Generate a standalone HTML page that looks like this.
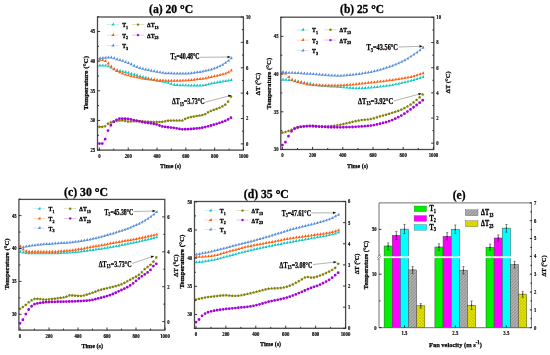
<!DOCTYPE html>
<html><head><meta charset="utf-8"><style>html,body{margin:0;padding:0;background:#fff;width:550px;height:355px;overflow:hidden;}svg{display:block;will-change:transform;filter:blur(0.25px);font-family:"Liberation Serif", serif;}</style></head><body>
<svg width="550" height="355" viewBox="0 0 550 355" font-family='"Liberation Serif", serif'>
<defs><pattern id="hg" width="2.2" height="2.2" patternUnits="userSpaceOnUse" patternTransform="rotate(45)"><rect width="2.2" height="2.2" fill="#b4b4b4"/><rect width="0.8" height="2.2" fill="#8e8e8e"/><rect width="2.2" height="0.4" fill="#a0a0a0"/></pattern><pattern id="hy" width="2.2" height="2.2" patternUnits="userSpaceOnUse" patternTransform="rotate(45)"><rect width="2.2" height="2.2" fill="#e6e600"/><rect width="0.6" height="2.2" fill="#c8c800"/><rect width="2.2" height="0.6" fill="#c8c800"/></pattern></defs>
<rect width="550" height="355" fill="#fff"/>
<polyline points="99.4,126.9 102.26,126.9 105.12,126.23 107.98,123.61 110.84,122.39 113.7,121.64 116.56,121.02 119.42,120.56 122.28,120.41 125.14,120.99 128,121.5 130.86,121.42 133.72,121.26 136.58,121.12 139.44,121.12 142.3,121.27 145.16,121.48 148.02,121.69 150.88,121.84 153.74,121.95 156.6,122.05 159.46,122.1 162.32,121.88 165.18,121.26 168.04,120.66 170.9,120.5 173.76,120.5 176.62,120.5 179.48,120.5 182.34,120.5 185.2,118.92 188.06,117.74 190.92,117.06 193.78,116.54 196.64,116.09 199.5,115.6 202.36,115.08 205.22,114.17 208.08,112.31 210.94,110.95 213.8,109.89 216.66,108.88 219.52,107.72 222.38,106.36 225.24,104.61 228.1,101.52 230.96,96.58" fill="none" stroke="#7f7f00" stroke-width="0.5" opacity="0.35"/>
<path d="M99.4 125.2L100 126.07L101.02 126.37L100.37 127.22L100.4 128.28L99.4 127.92L98.4 128.28L98.43 127.22L97.78 126.37L98.8 126.07ZM102.26 125.2L102.86 126.07L103.88 126.37L103.23 127.22L103.26 128.28L102.26 127.92L101.26 128.28L101.29 127.22L100.64 126.37L101.66 126.07ZM105.12 124.53L105.72 125.41L106.74 125.71L106.09 126.55L106.12 127.61L105.12 127.25L104.12 127.61L104.15 126.55L103.5 125.71L104.52 125.41ZM107.98 121.91L108.58 122.79L109.6 123.09L108.95 123.93L108.98 124.99L107.98 124.63L106.98 124.99L107.01 123.93L106.36 123.09L107.38 122.79ZM110.84 120.69L111.44 121.56L112.46 121.86L111.81 122.7L111.84 123.76L110.84 123.41L109.84 123.76L109.87 122.7L109.22 121.86L110.24 121.56ZM113.7 119.94L114.3 120.82L115.32 121.12L114.67 121.96L114.7 123.02L113.7 122.66L112.7 123.02L112.73 121.96L112.08 121.12L113.1 120.82ZM116.56 119.32L117.16 120.2L118.18 120.5L117.53 121.34L117.56 122.4L116.56 122.04L115.56 122.4L115.59 121.34L114.94 120.5L115.96 120.2ZM119.42 118.86L120.02 119.73L121.04 120.03L120.39 120.88L120.42 121.94L119.42 121.58L118.42 121.94L118.45 120.88L117.8 120.03L118.82 119.73ZM122.28 118.71L122.88 119.58L123.9 119.88L123.25 120.72L123.28 121.78L122.28 121.43L121.28 121.78L121.31 120.72L120.66 119.88L121.68 119.58ZM125.14 119.29L125.74 120.16L126.76 120.46L126.11 121.3L126.14 122.36L125.14 122.01L124.14 122.36L124.17 121.3L123.52 120.46L124.54 120.16ZM128 119.8L128.6 120.67L129.62 120.97L128.97 121.82L129 122.88L128 122.52L127 122.88L127.03 121.82L126.38 120.97L127.4 120.67ZM130.86 119.72L131.46 120.6L132.48 120.9L131.83 121.74L131.86 122.8L130.86 122.44L129.86 122.8L129.89 121.74L129.24 120.9L130.26 120.6ZM133.72 119.56L134.32 120.43L135.34 120.73L134.69 121.57L134.72 122.63L133.72 122.28L132.72 122.63L132.75 121.57L132.1 120.73L133.12 120.43ZM136.58 119.42L137.18 120.3L138.2 120.6L137.55 121.44L137.58 122.5L136.58 122.14L135.58 122.5L135.61 121.44L134.96 120.6L135.98 120.3ZM139.44 119.42L140.04 120.3L141.06 120.6L140.41 121.44L140.44 122.5L139.44 122.14L138.44 122.5L138.47 121.44L137.82 120.6L138.84 120.3ZM142.3 119.57L142.9 120.44L143.92 120.74L143.27 121.58L143.3 122.64L142.3 122.29L141.3 122.64L141.33 121.58L140.68 120.74L141.7 120.44ZM145.16 119.78L145.76 120.66L146.78 120.96L146.13 121.8L146.16 122.86L145.16 122.5L144.16 122.86L144.19 121.8L143.54 120.96L144.56 120.66ZM148.02 119.99L148.62 120.87L149.64 121.17L148.99 122.01L149.02 123.07L148.02 122.71L147.02 123.07L147.05 122.01L146.4 121.17L147.42 120.87ZM150.88 120.14L151.48 121.01L152.5 121.31L151.85 122.15L151.88 123.21L150.88 122.86L149.88 123.21L149.91 122.15L149.26 121.31L150.28 121.01ZM153.74 120.25L154.34 121.13L155.36 121.43L154.71 122.27L154.74 123.33L153.74 122.97L152.74 123.33L152.77 122.27L152.12 121.43L153.14 121.13ZM156.6 120.35L157.2 121.22L158.22 121.52L157.57 122.36L157.6 123.42L156.6 123.07L155.6 123.42L155.63 122.36L154.98 121.52L156 121.22ZM159.46 120.4L160.06 121.27L161.08 121.57L160.43 122.41L160.46 123.47L159.46 123.12L158.46 123.47L158.49 122.41L157.84 121.57L158.86 121.27ZM162.32 120.18L162.92 121.06L163.94 121.36L163.29 122.2L163.32 123.26L162.32 122.9L161.32 123.26L161.35 122.2L160.7 121.36L161.72 121.06ZM165.18 119.56L165.78 120.43L166.8 120.73L166.15 121.57L166.18 122.63L165.18 122.28L164.18 122.63L164.21 121.57L163.56 120.73L164.58 120.43ZM168.04 118.96L168.64 119.84L169.66 120.13L169.01 120.98L169.04 122.04L168.04 121.68L167.04 122.04L167.07 120.98L166.42 120.13L167.44 119.84ZM170.9 118.8L171.5 119.67L172.52 119.97L171.87 120.82L171.9 121.88L170.9 121.52L169.9 121.88L169.93 120.82L169.28 119.97L170.3 119.67ZM173.76 118.8L174.36 119.67L175.38 119.97L174.73 120.82L174.76 121.88L173.76 121.52L172.76 121.88L172.79 120.82L172.14 119.97L173.16 119.67ZM176.62 118.8L177.22 119.67L178.24 119.97L177.59 120.82L177.62 121.88L176.62 121.52L175.62 121.88L175.65 120.82L175 119.97L176.02 119.67ZM179.48 118.8L180.08 119.67L181.1 119.97L180.45 120.82L180.48 121.88L179.48 121.52L178.48 121.88L178.51 120.82L177.86 119.97L178.88 119.67ZM182.34 118.8L182.94 119.67L183.96 119.97L183.31 120.82L183.34 121.88L182.34 121.52L181.34 121.88L181.37 120.82L180.72 119.97L181.74 119.67ZM185.2 117.22L185.8 118.1L186.82 118.4L186.17 119.24L186.2 120.3L185.2 119.94L184.2 120.3L184.23 119.24L183.58 118.4L184.6 118.1ZM188.06 116.04L188.66 116.91L189.68 117.21L189.03 118.06L189.06 119.12L188.06 118.76L187.06 119.12L187.09 118.06L186.44 117.21L187.46 116.91ZM190.92 115.36L191.52 116.23L192.54 116.53L191.89 117.37L191.92 118.43L190.92 118.08L189.92 118.43L189.95 117.37L189.3 116.53L190.32 116.23ZM193.78 114.84L194.38 115.72L195.4 116.02L194.75 116.86L194.78 117.92L193.78 117.56L192.78 117.92L192.81 116.86L192.16 116.02L193.18 115.72ZM196.64 114.39L197.24 115.27L198.26 115.57L197.61 116.41L197.64 117.47L196.64 117.11L195.64 117.47L195.67 116.41L195.02 115.57L196.04 115.27ZM199.5 113.9L200.1 114.77L201.12 115.07L200.47 115.91L200.5 116.97L199.5 116.62L198.5 116.97L198.53 115.91L197.88 115.07L198.9 114.77ZM202.36 113.38L202.96 114.25L203.98 114.55L203.33 115.39L203.36 116.45L202.36 116.1L201.36 116.45L201.39 115.39L200.74 114.55L201.76 114.25ZM205.22 112.47L205.82 113.35L206.84 113.64L206.19 114.49L206.22 115.55L205.22 115.19L204.22 115.55L204.25 114.49L203.6 113.64L204.62 113.35ZM208.08 110.61L208.68 111.49L209.7 111.79L209.05 112.63L209.08 113.69L208.08 113.33L207.08 113.69L207.11 112.63L206.46 111.79L207.48 111.49ZM210.94 109.25L211.54 110.13L212.56 110.43L211.91 111.27L211.94 112.33L210.94 111.97L209.94 112.33L209.97 111.27L209.32 110.43L210.34 110.13ZM213.8 108.19L214.4 109.07L215.42 109.37L214.77 110.21L214.8 111.27L213.8 110.91L212.8 111.27L212.83 110.21L212.18 109.37L213.2 109.07ZM216.66 107.18L217.26 108.06L218.28 108.36L217.63 109.2L217.66 110.26L216.66 109.9L215.66 110.26L215.69 109.2L215.04 108.36L216.06 108.06ZM219.52 106.02L220.12 106.9L221.14 107.2L220.49 108.04L220.52 109.1L219.52 108.74L218.52 109.1L218.55 108.04L217.9 107.2L218.92 106.9ZM222.38 104.66L222.98 105.53L224 105.83L223.35 106.67L223.38 107.73L222.38 107.38L221.38 107.73L221.41 106.67L220.76 105.83L221.78 105.53ZM225.24 102.91L225.84 103.78L226.86 104.08L226.21 104.92L226.24 105.98L225.24 105.63L224.24 105.98L224.27 104.92L223.62 104.08L224.64 103.78ZM228.1 99.82L228.7 100.7L229.72 101L229.07 101.84L229.1 102.9L228.1 102.54L227.1 102.9L227.13 101.84L226.48 101L227.5 100.7ZM230.96 94.88L231.56 95.75L232.58 96.05L231.93 96.89L231.96 97.95L230.96 97.6L229.96 97.95L229.99 96.89L229.34 96.05L230.36 95.75Z" fill="#7f7f00"/>
<polyline points="99.4,143.6 102.26,143.6 105.12,139.17 107.98,130.55 110.84,125.23 113.7,121.76 116.56,119.81 119.42,118.66 122.28,118.63 125.14,118.74 128,118.9 130.86,119.36 133.72,120.1 136.58,120.74 139.44,121.37 142.3,121.98 145.16,122.53 148.02,122.95 150.88,123.32 153.74,123.76 156.6,124.44 159.46,125.51 162.32,126.46 165.18,126.94 168.04,127.27 170.9,127.54 173.76,127.84 176.62,128.28 179.48,128.89 182.34,129.28 185.2,129.27 188.06,129.16 190.92,128.98 193.78,128.75 196.64,128.47 199.5,128.16 202.36,127.74 205.22,127.11 208.08,126.34 210.94,125.5 213.8,124.67 216.66,123.84 219.52,122.95 222.38,121.96 225.24,120.83 228.1,119.41 230.96,117.63" fill="none" stroke="#a400d8" stroke-width="0.5" opacity="0.35"/>
<path d="M98 143.6a1.4 1.4 0 1 0 2.8 0a1.4 1.4 0 1 0 -2.8 0ZM100.86 143.6a1.4 1.4 0 1 0 2.8 0a1.4 1.4 0 1 0 -2.8 0ZM103.72 139.17a1.4 1.4 0 1 0 2.8 0a1.4 1.4 0 1 0 -2.8 0ZM106.58 130.55a1.4 1.4 0 1 0 2.8 0a1.4 1.4 0 1 0 -2.8 0ZM109.44 125.23a1.4 1.4 0 1 0 2.8 0a1.4 1.4 0 1 0 -2.8 0ZM112.3 121.76a1.4 1.4 0 1 0 2.8 0a1.4 1.4 0 1 0 -2.8 0ZM115.16 119.81a1.4 1.4 0 1 0 2.8 0a1.4 1.4 0 1 0 -2.8 0ZM118.02 118.66a1.4 1.4 0 1 0 2.8 0a1.4 1.4 0 1 0 -2.8 0ZM120.88 118.63a1.4 1.4 0 1 0 2.8 0a1.4 1.4 0 1 0 -2.8 0ZM123.74 118.74a1.4 1.4 0 1 0 2.8 0a1.4 1.4 0 1 0 -2.8 0ZM126.6 118.9a1.4 1.4 0 1 0 2.8 0a1.4 1.4 0 1 0 -2.8 0ZM129.46 119.36a1.4 1.4 0 1 0 2.8 0a1.4 1.4 0 1 0 -2.8 0ZM132.32 120.1a1.4 1.4 0 1 0 2.8 0a1.4 1.4 0 1 0 -2.8 0ZM135.18 120.74a1.4 1.4 0 1 0 2.8 0a1.4 1.4 0 1 0 -2.8 0ZM138.04 121.37a1.4 1.4 0 1 0 2.8 0a1.4 1.4 0 1 0 -2.8 0ZM140.9 121.98a1.4 1.4 0 1 0 2.8 0a1.4 1.4 0 1 0 -2.8 0ZM143.76 122.53a1.4 1.4 0 1 0 2.8 0a1.4 1.4 0 1 0 -2.8 0ZM146.62 122.95a1.4 1.4 0 1 0 2.8 0a1.4 1.4 0 1 0 -2.8 0ZM149.48 123.32a1.4 1.4 0 1 0 2.8 0a1.4 1.4 0 1 0 -2.8 0ZM152.34 123.76a1.4 1.4 0 1 0 2.8 0a1.4 1.4 0 1 0 -2.8 0ZM155.2 124.44a1.4 1.4 0 1 0 2.8 0a1.4 1.4 0 1 0 -2.8 0ZM158.06 125.51a1.4 1.4 0 1 0 2.8 0a1.4 1.4 0 1 0 -2.8 0ZM160.92 126.46a1.4 1.4 0 1 0 2.8 0a1.4 1.4 0 1 0 -2.8 0ZM163.78 126.94a1.4 1.4 0 1 0 2.8 0a1.4 1.4 0 1 0 -2.8 0ZM166.64 127.27a1.4 1.4 0 1 0 2.8 0a1.4 1.4 0 1 0 -2.8 0ZM169.5 127.54a1.4 1.4 0 1 0 2.8 0a1.4 1.4 0 1 0 -2.8 0ZM172.36 127.84a1.4 1.4 0 1 0 2.8 0a1.4 1.4 0 1 0 -2.8 0ZM175.22 128.28a1.4 1.4 0 1 0 2.8 0a1.4 1.4 0 1 0 -2.8 0ZM178.08 128.89a1.4 1.4 0 1 0 2.8 0a1.4 1.4 0 1 0 -2.8 0ZM180.94 129.28a1.4 1.4 0 1 0 2.8 0a1.4 1.4 0 1 0 -2.8 0ZM183.8 129.27a1.4 1.4 0 1 0 2.8 0a1.4 1.4 0 1 0 -2.8 0ZM186.66 129.16a1.4 1.4 0 1 0 2.8 0a1.4 1.4 0 1 0 -2.8 0ZM189.52 128.98a1.4 1.4 0 1 0 2.8 0a1.4 1.4 0 1 0 -2.8 0ZM192.38 128.75a1.4 1.4 0 1 0 2.8 0a1.4 1.4 0 1 0 -2.8 0ZM195.24 128.47a1.4 1.4 0 1 0 2.8 0a1.4 1.4 0 1 0 -2.8 0ZM198.1 128.16a1.4 1.4 0 1 0 2.8 0a1.4 1.4 0 1 0 -2.8 0ZM200.96 127.74a1.4 1.4 0 1 0 2.8 0a1.4 1.4 0 1 0 -2.8 0ZM203.82 127.11a1.4 1.4 0 1 0 2.8 0a1.4 1.4 0 1 0 -2.8 0ZM206.68 126.34a1.4 1.4 0 1 0 2.8 0a1.4 1.4 0 1 0 -2.8 0ZM209.54 125.5a1.4 1.4 0 1 0 2.8 0a1.4 1.4 0 1 0 -2.8 0ZM212.4 124.67a1.4 1.4 0 1 0 2.8 0a1.4 1.4 0 1 0 -2.8 0ZM215.26 123.84a1.4 1.4 0 1 0 2.8 0a1.4 1.4 0 1 0 -2.8 0ZM218.12 122.95a1.4 1.4 0 1 0 2.8 0a1.4 1.4 0 1 0 -2.8 0ZM220.98 121.96a1.4 1.4 0 1 0 2.8 0a1.4 1.4 0 1 0 -2.8 0ZM223.84 120.83a1.4 1.4 0 1 0 2.8 0a1.4 1.4 0 1 0 -2.8 0ZM226.7 119.41a1.4 1.4 0 1 0 2.8 0a1.4 1.4 0 1 0 -2.8 0ZM229.56 117.63a1.4 1.4 0 1 0 2.8 0a1.4 1.4 0 1 0 -2.8 0Z" fill="#a400d8"/>
<polyline points="99.4,65.5 102.26,65.5 105.12,65.5 107.98,66.23 110.84,67.62 113.7,69.1 116.56,70.19 119.42,70.98 122.28,71.46 125.14,72.08 128,72.82 130.86,73.64 133.72,74.49 136.58,75.34 139.44,76.13 142.3,76.92 145.16,77.72 148.02,78.5 150.88,79.24 153.74,79.92 156.6,80.51 159.46,81.04 162.32,81.56 165.18,82.13 168.04,82.79 170.9,83.8 173.76,84.72 176.62,84.99 179.48,85.14 182.34,85.27 185.2,85.37 188.06,85.45 190.92,85.52 193.78,85.56 196.64,85.59 199.5,85.6 202.36,85.46 205.22,85 208.08,84.34 210.94,83.61 213.8,82.94 216.66,82.4 219.52,81.91 222.38,81.42 225.24,80.96 228.1,80.52 230.96,80.11" fill="none" stroke="#12c6c6" stroke-width="0.5" opacity="0.35"/>
<path d="M97.8 66.5L100.36 63.5L101 66.5ZM100.66 66.5L103.22 63.5L103.86 66.5ZM103.52 66.5L106.08 63.5L106.72 66.5ZM106.38 67.23L108.94 64.23L109.58 67.23ZM109.24 68.62L111.8 65.62L112.44 68.62ZM112.1 70.1L114.66 67.1L115.3 70.1ZM114.96 71.19L117.52 68.19L118.16 71.19ZM117.82 71.98L120.38 68.98L121.02 71.98ZM120.68 72.46L123.24 69.46L123.88 72.46ZM123.54 73.08L126.1 70.08L126.74 73.08ZM126.4 73.82L128.96 70.82L129.6 73.82ZM129.26 74.64L131.82 71.64L132.46 74.64ZM132.12 75.49L134.68 72.49L135.32 75.49ZM134.98 76.34L137.54 73.34L138.18 76.34ZM137.84 77.13L140.4 74.13L141.04 77.13ZM140.7 77.92L143.26 74.92L143.9 77.92ZM143.56 78.72L146.12 75.72L146.76 78.72ZM146.42 79.5L148.98 76.5L149.62 79.5ZM149.28 80.24L151.84 77.24L152.48 80.24ZM152.14 80.92L154.7 77.92L155.34 80.92ZM155 81.51L157.56 78.51L158.2 81.51ZM157.86 82.04L160.42 79.04L161.06 82.04ZM160.72 82.56L163.28 79.56L163.92 82.56ZM163.58 83.13L166.14 80.13L166.78 83.13ZM166.44 83.79L169 80.79L169.64 83.79ZM169.3 84.8L171.86 81.8L172.5 84.8ZM172.16 85.72L174.72 82.72L175.36 85.72ZM175.02 85.99L177.58 82.99L178.22 85.99ZM177.88 86.14L180.44 83.14L181.08 86.14ZM180.74 86.27L183.3 83.27L183.94 86.27ZM183.6 86.37L186.16 83.37L186.8 86.37ZM186.46 86.45L189.02 83.45L189.66 86.45ZM189.32 86.52L191.88 83.52L192.52 86.52ZM192.18 86.56L194.74 83.56L195.38 86.56ZM195.04 86.59L197.6 83.59L198.24 86.59ZM197.9 86.6L200.46 83.6L201.1 86.6ZM200.76 86.46L203.32 83.46L203.96 86.46ZM203.62 86L206.18 83L206.82 86ZM206.48 85.34L209.04 82.34L209.68 85.34ZM209.34 84.61L211.9 81.61L212.54 84.61ZM212.2 83.94L214.76 80.94L215.4 83.94ZM215.06 83.4L217.62 80.4L218.26 83.4ZM217.92 82.91L220.48 79.91L221.12 82.91ZM220.78 82.42L223.34 79.42L223.98 82.42ZM223.64 81.96L226.2 78.96L226.84 81.96ZM226.5 81.52L229.06 78.52L229.7 81.52ZM229.36 81.11L231.92 78.11L232.56 81.11Z" fill="#12c6c6"/>
<polyline points="99.4,59.6 102.26,59.99 105.12,60.96 107.98,63.58 110.84,66.54 113.7,69.23 116.56,70.93 119.42,72.25 122.28,73.39 125.14,74.39 128,75.29 130.86,76.07 133.72,76.69 136.58,77.22 139.44,77.78 142.3,78.42 145.16,78.99 148.02,79.34 150.88,79.6 153.74,79.85 156.6,80.18 159.46,80.45 162.32,80.56 165.18,80.65 168.04,80.72 170.9,80.77 173.76,80.8 176.62,80.79 179.48,80.72 182.34,80.59 185.2,80.42 188.06,80.2 190.92,79.95 193.78,79.67 196.64,79.37 199.5,79.06 202.36,78.69 205.22,78.18 208.08,77.59 210.94,76.94 213.8,76.27 216.66,75.64 219.52,75 222.38,74.29 225.24,73.42 228.1,72.17 230.96,70.62" fill="none" stroke="#ff5e0e" stroke-width="0.5" opacity="0.35"/>
<path d="M97.8 60.6L100.36 57.6L101 60.6ZM100.66 60.99L103.22 57.99L103.86 60.99ZM103.52 61.96L106.08 58.96L106.72 61.96ZM106.38 64.58L108.94 61.58L109.58 64.58ZM109.24 67.54L111.8 64.54L112.44 67.54ZM112.1 70.23L114.66 67.23L115.3 70.23ZM114.96 71.93L117.52 68.93L118.16 71.93ZM117.82 73.25L120.38 70.25L121.02 73.25ZM120.68 74.39L123.24 71.39L123.88 74.39ZM123.54 75.39L126.1 72.39L126.74 75.39ZM126.4 76.29L128.96 73.29L129.6 76.29ZM129.26 77.07L131.82 74.07L132.46 77.07ZM132.12 77.69L134.68 74.69L135.32 77.69ZM134.98 78.22L137.54 75.22L138.18 78.22ZM137.84 78.78L140.4 75.78L141.04 78.78ZM140.7 79.42L143.26 76.42L143.9 79.42ZM143.56 79.99L146.12 76.99L146.76 79.99ZM146.42 80.34L148.98 77.34L149.62 80.34ZM149.28 80.6L151.84 77.6L152.48 80.6ZM152.14 80.85L154.7 77.85L155.34 80.85ZM155 81.18L157.56 78.18L158.2 81.18ZM157.86 81.45L160.42 78.45L161.06 81.45ZM160.72 81.56L163.28 78.56L163.92 81.56ZM163.58 81.65L166.14 78.65L166.78 81.65ZM166.44 81.72L169 78.72L169.64 81.72ZM169.3 81.77L171.86 78.77L172.5 81.77ZM172.16 81.8L174.72 78.8L175.36 81.8ZM175.02 81.79L177.58 78.79L178.22 81.79ZM177.88 81.72L180.44 78.72L181.08 81.72ZM180.74 81.59L183.3 78.59L183.94 81.59ZM183.6 81.42L186.16 78.42L186.8 81.42ZM186.46 81.2L189.02 78.2L189.66 81.2ZM189.32 80.95L191.88 77.95L192.52 80.95ZM192.18 80.67L194.74 77.67L195.38 80.67ZM195.04 80.37L197.6 77.37L198.24 80.37ZM197.9 80.06L200.46 77.06L201.1 80.06ZM200.76 79.69L203.32 76.69L203.96 79.69ZM203.62 79.18L206.18 76.18L206.82 79.18ZM206.48 78.59L209.04 75.59L209.68 78.59ZM209.34 77.94L211.9 74.94L212.54 77.94ZM212.2 77.27L214.76 74.27L215.4 77.27ZM215.06 76.64L217.62 73.64L218.26 76.64ZM217.92 76L220.48 73L221.12 76ZM220.78 75.29L223.34 72.29L223.98 75.29ZM223.64 74.42L226.2 71.42L226.84 74.42ZM226.5 73.17L229.06 70.17L229.7 73.17ZM229.36 71.62L231.92 68.62L232.56 71.62Z" fill="#ff5e0e"/>
<polyline points="99.4,58.2 102.26,57.94 105.12,57.7 107.98,57.5 110.84,57.51 113.7,58.32 116.56,59.37 119.42,60.04 122.28,60.79 125.14,61.89 128,63.11 130.86,64.35 133.72,65.65 136.58,67 139.44,67.93 142.3,68.74 145.16,69.45 148.02,70.08 150.88,70.66 153.74,71.2 156.6,71.77 159.46,72.32 162.32,72.8 165.18,73.15 168.04,73.31 170.9,73.36 173.76,73.41 176.62,73.45 179.48,73.48 182.34,73.49 185.2,73.5 188.06,73.39 190.92,73.13 193.78,72.76 196.64,72.33 199.5,71.88 202.36,71.41 205.22,70.85 208.08,70.2 210.94,69.45 213.8,68.59 216.66,67.58 219.52,66.23 222.38,64.63 225.24,62.84 228.1,60.72 230.96,58.24" fill="none" stroke="#5a90da" stroke-width="0.5" opacity="0.35"/>
<path d="M97.8 59.2L100.36 56.2L101 59.2ZM100.66 58.94L103.22 55.94L103.86 58.94ZM103.52 58.7L106.08 55.7L106.72 58.7ZM106.38 58.5L108.94 55.5L109.58 58.5ZM109.24 58.51L111.8 55.51L112.44 58.51ZM112.1 59.32L114.66 56.32L115.3 59.32ZM114.96 60.37L117.52 57.37L118.16 60.37ZM117.82 61.04L120.38 58.04L121.02 61.04ZM120.68 61.79L123.24 58.79L123.88 61.79ZM123.54 62.89L126.1 59.89L126.74 62.89ZM126.4 64.11L128.96 61.11L129.6 64.11ZM129.26 65.35L131.82 62.35L132.46 65.35ZM132.12 66.65L134.68 63.65L135.32 66.65ZM134.98 68L137.54 65L138.18 68ZM137.84 68.93L140.4 65.93L141.04 68.93ZM140.7 69.74L143.26 66.74L143.9 69.74ZM143.56 70.45L146.12 67.45L146.76 70.45ZM146.42 71.08L148.98 68.08L149.62 71.08ZM149.28 71.66L151.84 68.66L152.48 71.66ZM152.14 72.2L154.7 69.2L155.34 72.2ZM155 72.77L157.56 69.77L158.2 72.77ZM157.86 73.32L160.42 70.32L161.06 73.32ZM160.72 73.8L163.28 70.8L163.92 73.8ZM163.58 74.15L166.14 71.15L166.78 74.15ZM166.44 74.31L169 71.31L169.64 74.31ZM169.3 74.36L171.86 71.36L172.5 74.36ZM172.16 74.41L174.72 71.41L175.36 74.41ZM175.02 74.45L177.58 71.45L178.22 74.45ZM177.88 74.48L180.44 71.48L181.08 74.48ZM180.74 74.49L183.3 71.49L183.94 74.49ZM183.6 74.5L186.16 71.5L186.8 74.5ZM186.46 74.39L189.02 71.39L189.66 74.39ZM189.32 74.13L191.88 71.13L192.52 74.13ZM192.18 73.76L194.74 70.76L195.38 73.76ZM195.04 73.33L197.6 70.33L198.24 73.33ZM197.9 72.88L200.46 69.88L201.1 72.88ZM200.76 72.41L203.32 69.41L203.96 72.41ZM203.62 71.85L206.18 68.85L206.82 71.85ZM206.48 71.2L209.04 68.2L209.68 71.2ZM209.34 70.45L211.9 67.45L212.54 70.45ZM212.2 69.59L214.76 66.59L215.4 69.59ZM215.06 68.58L217.62 65.58L218.26 68.58ZM217.92 67.23L220.48 64.23L221.12 67.23ZM220.78 65.63L223.34 62.63L223.98 65.63ZM223.64 63.84L226.2 60.84L226.84 63.84ZM226.5 61.72L229.06 58.72L229.7 61.72ZM229.36 59.24L231.92 56.24L232.56 59.24Z" fill="#5a90da"/>
<rect x="97.5" y="17" width="145.9" height="133.1" fill="none" stroke="#4a4a4a" stroke-width="1.3"/>
<line x1="99.4" y1="150.1" x2="99.4" y2="147.5" stroke="#222" stroke-width="0.9"/>
<text transform="translate(99.4 157.7) scale(0.92 1)" font-size="5.2" text-anchor="middle" stroke="#000" stroke-width="0.15" font-weight="bold">0</text>
<line x1="113.81" y1="150.1" x2="113.81" y2="148.6" stroke="#222" stroke-width="0.9"/>
<line x1="128.22" y1="150.1" x2="128.22" y2="147.5" stroke="#222" stroke-width="0.9"/>
<text transform="translate(128.22 157.7) scale(0.92 1)" font-size="5.2" text-anchor="middle" stroke="#000" stroke-width="0.15" font-weight="bold">200</text>
<line x1="142.63" y1="150.1" x2="142.63" y2="148.6" stroke="#222" stroke-width="0.9"/>
<line x1="157.04" y1="150.1" x2="157.04" y2="147.5" stroke="#222" stroke-width="0.9"/>
<text transform="translate(157.04 157.7) scale(0.92 1)" font-size="5.2" text-anchor="middle" stroke="#000" stroke-width="0.15" font-weight="bold">400</text>
<line x1="171.45" y1="150.1" x2="171.45" y2="148.6" stroke="#222" stroke-width="0.9"/>
<line x1="185.86" y1="150.1" x2="185.86" y2="147.5" stroke="#222" stroke-width="0.9"/>
<text transform="translate(185.86 157.7) scale(0.92 1)" font-size="5.2" text-anchor="middle" stroke="#000" stroke-width="0.15" font-weight="bold">600</text>
<line x1="200.27" y1="150.1" x2="200.27" y2="148.6" stroke="#222" stroke-width="0.9"/>
<line x1="214.68" y1="150.1" x2="214.68" y2="147.5" stroke="#222" stroke-width="0.9"/>
<text transform="translate(214.68 157.7) scale(0.92 1)" font-size="5.2" text-anchor="middle" stroke="#000" stroke-width="0.15" font-weight="bold">800</text>
<line x1="229.09" y1="150.1" x2="229.09" y2="148.6" stroke="#222" stroke-width="0.9"/>
<line x1="243.5" y1="150.1" x2="243.5" y2="147.5" stroke="#222" stroke-width="0.9"/>
<text transform="translate(243.5 157.7) scale(0.92 1)" font-size="5.2" text-anchor="middle" stroke="#000" stroke-width="0.15" font-weight="bold">1000</text>
<line x1="97.5" y1="150.1" x2="100.1" y2="150.1" stroke="#222" stroke-width="0.9"/>
<text transform="translate(95.2 152) scale(0.85 1)" font-size="5.5" text-anchor="end" stroke="#000" stroke-width="0.15" font-weight="bold">25</text>
<line x1="97.5" y1="135.28" x2="99" y2="135.28" stroke="#222" stroke-width="0.9"/>
<line x1="97.5" y1="120.45" x2="100.1" y2="120.45" stroke="#222" stroke-width="0.9"/>
<text transform="translate(95.2 122.35) scale(0.85 1)" font-size="5.5" text-anchor="end" stroke="#000" stroke-width="0.15" font-weight="bold">30</text>
<line x1="97.5" y1="105.62" x2="99" y2="105.62" stroke="#222" stroke-width="0.9"/>
<line x1="97.5" y1="90.8" x2="100.1" y2="90.8" stroke="#222" stroke-width="0.9"/>
<text transform="translate(95.2 92.7) scale(0.85 1)" font-size="5.5" text-anchor="end" stroke="#000" stroke-width="0.15" font-weight="bold">35</text>
<line x1="97.5" y1="75.97" x2="99" y2="75.97" stroke="#222" stroke-width="0.9"/>
<line x1="97.5" y1="61.15" x2="100.1" y2="61.15" stroke="#222" stroke-width="0.9"/>
<text transform="translate(95.2 63.05) scale(0.85 1)" font-size="5.5" text-anchor="end" stroke="#000" stroke-width="0.15" font-weight="bold">40</text>
<line x1="97.5" y1="46.32" x2="99" y2="46.32" stroke="#222" stroke-width="0.9"/>
<line x1="97.5" y1="31.5" x2="100.1" y2="31.5" stroke="#222" stroke-width="0.9"/>
<text transform="translate(95.2 33.4) scale(0.85 1)" font-size="5.5" text-anchor="end" stroke="#000" stroke-width="0.15" font-weight="bold">45</text>
<line x1="97.5" y1="16.67" x2="99" y2="16.67" stroke="#222" stroke-width="0.9"/>
<line x1="243.4" y1="143.9" x2="240.8" y2="143.9" stroke="#222" stroke-width="0.9"/>
<text transform="translate(245.9 145.8) scale(0.85 1)" font-size="5.5" text-anchor="start" stroke="#000" stroke-width="0.15" font-weight="bold">0</text>
<line x1="243.4" y1="131.21" x2="241.9" y2="131.21" stroke="#222" stroke-width="0.9"/>
<line x1="243.4" y1="118.52" x2="240.8" y2="118.52" stroke="#222" stroke-width="0.9"/>
<text transform="translate(245.9 120.42) scale(0.85 1)" font-size="5.5" text-anchor="start" stroke="#000" stroke-width="0.15" font-weight="bold">2</text>
<line x1="243.4" y1="105.83" x2="241.9" y2="105.83" stroke="#222" stroke-width="0.9"/>
<line x1="243.4" y1="93.14" x2="240.8" y2="93.14" stroke="#222" stroke-width="0.9"/>
<text transform="translate(245.9 95.04) scale(0.85 1)" font-size="5.5" text-anchor="start" stroke="#000" stroke-width="0.15" font-weight="bold">4</text>
<line x1="243.4" y1="80.45" x2="241.9" y2="80.45" stroke="#222" stroke-width="0.9"/>
<line x1="243.4" y1="67.76" x2="240.8" y2="67.76" stroke="#222" stroke-width="0.9"/>
<text transform="translate(245.9 69.66) scale(0.85 1)" font-size="5.5" text-anchor="start" stroke="#000" stroke-width="0.15" font-weight="bold">6</text>
<line x1="243.4" y1="55.07" x2="241.9" y2="55.07" stroke="#222" stroke-width="0.9"/>
<line x1="243.4" y1="42.38" x2="240.8" y2="42.38" stroke="#222" stroke-width="0.9"/>
<text transform="translate(245.9 44.28) scale(0.85 1)" font-size="5.5" text-anchor="start" stroke="#000" stroke-width="0.15" font-weight="bold">8</text>
<line x1="243.4" y1="29.69" x2="241.9" y2="29.69" stroke="#222" stroke-width="0.9"/>
<line x1="243.4" y1="17" x2="240.8" y2="17" stroke="#222" stroke-width="0.9"/>
<text transform="translate(245.9 18.9) scale(0.85 1)" font-size="5.5" text-anchor="start" stroke="#000" stroke-width="0.15" font-weight="bold">10</text>
<text x="170.6" y="168" font-size="7.1" text-anchor="middle" stroke="#000" stroke-width="0.25" font-weight="bold" textLength="21" lengthAdjust="spacingAndGlyphs">Time (s)</text>
<text x="88" y="83" font-size="7" text-anchor="middle" stroke="#000" stroke-width="0.25" font-weight="bold" textLength="54" lengthAdjust="spacingAndGlyphs" transform="rotate(-90 88 83)">Temperature (°C)</text>
<text x="259.7" y="84" font-size="7" text-anchor="middle" stroke="#000" stroke-width="0.25" font-weight="bold" textLength="22.7" lengthAdjust="spacingAndGlyphs" transform="rotate(-90 259.7 84)">ΔT (°C)</text>
<text x="149" y="12.5" font-size="12.6" text-anchor="start" stroke="#000" stroke-width="0.3" font-weight="bold" textLength="44.2" lengthAdjust="spacingAndGlyphs">(a) 20 <tspan stroke-width="0.55">°</tspan>C</text>
<line x1="106.8" y1="24.6" x2="118.8" y2="24.6" stroke="#12c6c6" stroke-width="0.5" opacity="0.5"/>
<path d="M111.2 25.6L113.76 22.6L114.4 25.6Z" fill="#12c6c6"/>
<text transform="translate(122.2 27.2) scale(0.84 1)" font-size="6.9" font-weight="bold" text-anchor="start" stroke="#000" stroke-width="0.3">T<tspan font-size="4.83" dy="1.52">1</tspan><tspan dy="-1.52"></tspan></text>
<line x1="106.8" y1="35.1" x2="118.8" y2="35.1" stroke="#ff5e0e" stroke-width="0.5" opacity="0.5"/>
<path d="M111.2 36.1L113.76 33.1L114.4 36.1Z" fill="#ff5e0e"/>
<text transform="translate(122.2 37.7) scale(0.84 1)" font-size="6.9" font-weight="bold" text-anchor="start" stroke="#000" stroke-width="0.3">T<tspan font-size="4.83" dy="1.52">2</tspan><tspan dy="-1.52"></tspan></text>
<line x1="106.8" y1="45.6" x2="118.8" y2="45.6" stroke="#5a90da" stroke-width="0.5" opacity="0.5"/>
<path d="M111.2 46.6L113.76 43.6L114.4 46.6Z" fill="#5a90da"/>
<text transform="translate(122.2 48.2) scale(0.84 1)" font-size="6.9" font-weight="bold" text-anchor="start" stroke="#000" stroke-width="0.3">T<tspan font-size="4.83" dy="1.52">3</tspan><tspan dy="-1.52"></tspan></text>
<line x1="132" y1="24.6" x2="144" y2="24.6" stroke="#7f7f00" stroke-width="0.5" opacity="0.5"/>
<path d="M136.8 24.6a1.2 1.2 0 1 0 2.4 0a1.2 1.2 0 1 0 -2.4 0Z" fill="#7f7f00"/>
<text transform="translate(147.1 27.2) scale(0.84 1)" font-size="6.9" font-weight="bold" text-anchor="start" stroke="#000" stroke-width="0.3">ΔT<tspan font-size="4.83" dy="1.52">13</tspan><tspan dy="-1.52"></tspan></text>
<line x1="132" y1="35.1" x2="144" y2="35.1" stroke="#a400d8" stroke-width="0.5" opacity="0.5"/>
<path d="M136.8 35.1a1.2 1.2 0 1 0 2.4 0a1.2 1.2 0 1 0 -2.4 0Z" fill="#a400d8"/>
<text transform="translate(147.1 37.7) scale(0.84 1)" font-size="6.9" font-weight="bold" text-anchor="start" stroke="#000" stroke-width="0.3">ΔT<tspan font-size="4.83" dy="1.52">23</tspan><tspan dy="-1.52"></tspan></text>
<text x="170.5" y="58.8" font-size="7.2" font-weight="bold" text-anchor="start" stroke="#000" stroke-width="0.25" textLength="29.1" lengthAdjust="spacingAndGlyphs">T<tspan font-size="5.04" dy="1.58">3</tspan><tspan dy="-1.58">=40.48°C</tspan></text>
<line x1="199.8" y1="57.3" x2="230.5" y2="57" stroke="#666" stroke-width="0.5"/>
<path d="M230.5 57L227.51 58.33L227.49 55.73Z" fill="#111"/>
<text x="172" y="104" font-size="7.2" font-weight="bold" text-anchor="start" stroke="#000" stroke-width="0.25" textLength="32.6" lengthAdjust="spacingAndGlyphs">ΔT<tspan font-size="5.04" dy="1.58">13</tspan><tspan dy="-1.58">=3.73°C</tspan></text>
<line x1="204.8" y1="102.3" x2="231.2" y2="95.3" stroke="#666" stroke-width="0.5"/>
<path d="M231.2 95.3L228.63 97.33L227.97 94.81Z" fill="#111"/>
<polyline points="282.4,132.7 285.45,132 288.5,131.04 291.55,129.79 294.6,128.24 297.65,127.33 300.7,126.82 303.75,126.51 306.8,126.29 309.85,126.2 312.9,126.26 315.95,126.39 319,126.49 322.05,126.48 325.1,126.41 328.15,126.29 331.2,126.12 334.25,125.77 337.3,125.28 340.35,124.74 343.4,124.1 346.45,123.35 349.5,122.61 352.55,121.9 355.6,121.16 358.65,120.52 361.7,120.08 364.75,119.79 367.8,119.49 370.85,119.05 373.9,118.25 376.95,117.26 380,116.3 383.05,115.45 386.1,114.62 389.15,113.75 392.2,112.84 395.25,111.9 398.3,110.86 401.35,109.63 404.4,108.16 407.45,106.47 410.5,104.58 413.55,102.44 416.6,100.04 419.65,97.38 422.7,94.5" fill="none" stroke="#7f7f00" stroke-width="0.5" opacity="0.35"/>
<path d="M282.4 131L283 131.87L284.02 132.17L283.37 133.02L283.4 134.08L282.4 133.72L281.4 134.08L281.43 133.02L280.78 132.17L281.8 131.87ZM285.45 130.3L286.05 131.17L287.07 131.47L286.42 132.32L286.45 133.38L285.45 133.02L284.45 133.38L284.48 132.32L283.83 131.47L284.85 131.17ZM288.5 129.34L289.1 130.21L290.12 130.51L289.47 131.35L289.5 132.41L288.5 132.06L287.5 132.41L287.53 131.35L286.88 130.51L287.9 130.21ZM291.55 128.09L292.15 128.96L293.17 129.26L292.52 130.1L292.55 131.16L291.55 130.81L290.55 131.16L290.58 130.1L289.93 129.26L290.95 128.96ZM294.6 126.54L295.2 127.42L296.22 127.72L295.57 128.56L295.6 129.62L294.6 129.26L293.6 129.62L293.63 128.56L292.98 127.72L294 127.42ZM297.65 125.63L298.25 126.51L299.27 126.81L298.62 127.65L298.65 128.71L297.65 128.35L296.65 128.71L296.68 127.65L296.03 126.81L297.05 126.51ZM300.7 125.12L301.3 126L302.32 126.29L301.67 127.14L301.7 128.2L300.7 127.84L299.7 128.2L299.73 127.14L299.08 126.29L300.1 126ZM303.75 124.81L304.35 125.68L305.37 125.98L304.72 126.82L304.75 127.88L303.75 127.53L302.75 127.88L302.78 126.82L302.13 125.98L303.15 125.68ZM306.8 124.59L307.4 125.46L308.42 125.76L307.77 126.6L307.8 127.66L306.8 127.31L305.8 127.66L305.83 126.6L305.18 125.76L306.2 125.46ZM309.85 124.5L310.45 125.38L311.47 125.67L310.82 126.52L310.85 127.58L309.85 127.22L308.85 127.58L308.88 126.52L308.23 125.67L309.25 125.38ZM312.9 124.56L313.5 125.44L314.52 125.74L313.87 126.58L313.9 127.64L312.9 127.28L311.9 127.64L311.93 126.58L311.28 125.74L312.3 125.44ZM315.95 124.69L316.55 125.57L317.57 125.87L316.92 126.71L316.95 127.77L315.95 127.41L314.95 127.77L314.98 126.71L314.33 125.87L315.35 125.57ZM319 124.79L319.6 125.67L320.62 125.97L319.97 126.81L320 127.87L319 127.51L318 127.87L318.03 126.81L317.38 125.97L318.4 125.67ZM322.05 124.78L322.65 125.66L323.67 125.96L323.02 126.8L323.05 127.86L322.05 127.5L321.05 127.86L321.08 126.8L320.43 125.96L321.45 125.66ZM325.1 124.71L325.7 125.58L326.72 125.88L326.07 126.72L326.1 127.78L325.1 127.43L324.1 127.78L324.13 126.72L323.48 125.88L324.5 125.58ZM328.15 124.59L328.75 125.46L329.77 125.76L329.12 126.6L329.15 127.66L328.15 127.31L327.15 127.66L327.18 126.6L326.53 125.76L327.55 125.46ZM331.2 124.42L331.8 125.3L332.82 125.6L332.17 126.44L332.2 127.5L331.2 127.14L330.2 127.5L330.23 126.44L329.58 125.6L330.6 125.3ZM334.25 124.07L334.85 124.94L335.87 125.24L335.22 126.08L335.25 127.14L334.25 126.79L333.25 127.14L333.28 126.08L332.63 125.24L333.65 124.94ZM337.3 123.58L337.9 124.45L338.92 124.75L338.27 125.59L338.3 126.65L337.3 126.3L336.3 126.65L336.33 125.59L335.68 124.75L336.7 124.45ZM340.35 123.04L340.95 123.91L341.97 124.21L341.32 125.05L341.35 126.11L340.35 125.76L339.35 126.11L339.38 125.05L338.73 124.21L339.75 123.91ZM343.4 122.4L344 123.27L345.02 123.57L344.37 124.41L344.4 125.47L343.4 125.12L342.4 125.47L342.43 124.41L341.78 123.57L342.8 123.27ZM346.45 121.65L347.05 122.53L348.07 122.83L347.42 123.67L347.45 124.73L346.45 124.37L345.45 124.73L345.48 123.67L344.83 122.83L345.85 122.53ZM349.5 120.91L350.1 121.79L351.12 122.09L350.47 122.93L350.5 123.99L349.5 123.63L348.5 123.99L348.53 122.93L347.88 122.09L348.9 121.79ZM352.55 120.2L353.15 121.07L354.17 121.37L353.52 122.21L353.55 123.27L352.55 122.92L351.55 123.27L351.58 122.21L350.93 121.37L351.95 121.07ZM355.6 119.46L356.2 120.34L357.22 120.64L356.57 121.48L356.6 122.54L355.6 122.18L354.6 122.54L354.63 121.48L353.98 120.64L355 120.34ZM358.65 118.82L359.25 119.7L360.27 120L359.62 120.84L359.65 121.9L358.65 121.54L357.65 121.9L357.68 120.84L357.03 120L358.05 119.7ZM361.7 118.38L362.3 119.26L363.32 119.56L362.67 120.4L362.7 121.46L361.7 121.1L360.7 121.46L360.73 120.4L360.08 119.56L361.1 119.26ZM364.75 118.09L365.35 118.96L366.37 119.26L365.72 120.1L365.75 121.16L364.75 120.81L363.75 121.16L363.78 120.1L363.13 119.26L364.15 118.96ZM367.8 117.79L368.4 118.67L369.42 118.97L368.77 119.81L368.8 120.87L367.8 120.51L366.8 120.87L366.83 119.81L366.18 118.97L367.2 118.67ZM370.85 117.35L371.45 118.22L372.47 118.52L371.82 119.36L371.85 120.42L370.85 120.07L369.85 120.42L369.88 119.36L369.23 118.52L370.25 118.22ZM373.9 116.55L374.5 117.43L375.52 117.73L374.87 118.57L374.9 119.63L373.9 119.27L372.9 119.63L372.93 118.57L372.28 117.73L373.3 117.43ZM376.95 115.56L377.55 116.44L378.57 116.74L377.92 117.58L377.95 118.64L376.95 118.28L375.95 118.64L375.98 117.58L375.33 116.74L376.35 116.44ZM380 114.6L380.6 115.47L381.62 115.77L380.97 116.62L381 117.68L380 117.32L379 117.68L379.03 116.62L378.38 115.77L379.4 115.47ZM383.05 113.75L383.65 114.63L384.67 114.93L384.02 115.77L384.05 116.83L383.05 116.47L382.05 116.83L382.08 115.77L381.43 114.93L382.45 114.63ZM386.1 112.92L386.7 113.8L387.72 114.1L387.07 114.94L387.1 116L386.1 115.64L385.1 116L385.13 114.94L384.48 114.1L385.5 113.8ZM389.15 112.05L389.75 112.93L390.77 113.23L390.12 114.07L390.15 115.13L389.15 114.77L388.15 115.13L388.18 114.07L387.53 113.23L388.55 112.93ZM392.2 111.14L392.8 112.01L393.82 112.31L393.17 113.15L393.2 114.21L392.2 113.86L391.2 114.21L391.23 113.15L390.58 112.31L391.6 112.01ZM395.25 110.2L395.85 111.07L396.87 111.37L396.22 112.22L396.25 113.28L395.25 112.92L394.25 113.28L394.28 112.22L393.63 111.37L394.65 111.07ZM398.3 109.16L398.9 110.03L399.92 110.33L399.27 111.17L399.3 112.23L398.3 111.88L397.3 112.23L397.33 111.17L396.68 110.33L397.7 110.03ZM401.35 107.93L401.95 108.8L402.97 109.1L402.32 109.94L402.35 111L401.35 110.65L400.35 111L400.38 109.94L399.73 109.1L400.75 108.8ZM404.4 106.46L405 107.33L406.02 107.63L405.37 108.47L405.4 109.53L404.4 109.18L403.4 109.53L403.43 108.47L402.78 107.63L403.8 107.33ZM407.45 104.77L408.05 105.64L409.07 105.94L408.42 106.78L408.45 107.84L407.45 107.49L406.45 107.84L406.48 106.78L405.83 105.94L406.85 105.64ZM410.5 102.88L411.1 103.75L412.12 104.05L411.47 104.89L411.5 105.95L410.5 105.6L409.5 105.95L409.53 104.89L408.88 104.05L409.9 103.75ZM413.55 100.74L414.15 101.62L415.17 101.92L414.52 102.76L414.55 103.82L413.55 103.46L412.55 103.82L412.58 102.76L411.93 101.92L412.95 101.62ZM416.6 98.34L417.2 99.21L418.22 99.51L417.57 100.35L417.6 101.41L416.6 101.06L415.6 101.41L415.63 100.35L414.98 99.51L416 99.21ZM419.65 95.68L420.25 96.56L421.27 96.86L420.62 97.7L420.65 98.76L419.65 98.4L418.65 98.76L418.68 97.7L418.03 96.86L419.05 96.56ZM422.7 92.8L423.3 93.67L424.32 93.97L423.67 94.81L423.7 95.87L422.7 95.52L421.7 95.87L421.73 94.81L421.08 93.97L422.1 93.67Z" fill="#7f7f00"/>
<polyline points="282.4,145.1 285.45,142.13 288.5,136.17 291.55,131.34 294.6,128.78 297.65,127.48 300.7,126.79 303.75,126.34 306.8,126.03 309.85,125.9 312.9,126 315.95,126.26 319,126.53 322.05,126.74 325.1,126.97 328.15,127.14 331.2,127.22 334.25,127.26 337.3,127.29 340.35,127.3 343.4,127.27 346.45,127.2 349.5,127.11 352.55,126.99 355.6,126.81 358.65,126.59 361.7,126.39 364.75,126.18 367.8,125.93 370.85,125.59 373.9,125.08 376.95,124.41 380,123.7 383.05,122.96 386.1,122.13 389.15,121.19 392.2,120.07 395.25,118.72 398.3,117.2 401.35,115.54 404.4,113.64 407.45,111.58 410.5,109.45 413.55,107.27 416.6,105.01 419.65,102.67 422.7,100.24" fill="none" stroke="#a400d8" stroke-width="0.5" opacity="0.35"/>
<path d="M281 145.1a1.4 1.4 0 1 0 2.8 0a1.4 1.4 0 1 0 -2.8 0ZM284.05 142.13a1.4 1.4 0 1 0 2.8 0a1.4 1.4 0 1 0 -2.8 0ZM287.1 136.17a1.4 1.4 0 1 0 2.8 0a1.4 1.4 0 1 0 -2.8 0ZM290.15 131.34a1.4 1.4 0 1 0 2.8 0a1.4 1.4 0 1 0 -2.8 0ZM293.2 128.78a1.4 1.4 0 1 0 2.8 0a1.4 1.4 0 1 0 -2.8 0ZM296.25 127.48a1.4 1.4 0 1 0 2.8 0a1.4 1.4 0 1 0 -2.8 0ZM299.3 126.79a1.4 1.4 0 1 0 2.8 0a1.4 1.4 0 1 0 -2.8 0ZM302.35 126.34a1.4 1.4 0 1 0 2.8 0a1.4 1.4 0 1 0 -2.8 0ZM305.4 126.03a1.4 1.4 0 1 0 2.8 0a1.4 1.4 0 1 0 -2.8 0ZM308.45 125.9a1.4 1.4 0 1 0 2.8 0a1.4 1.4 0 1 0 -2.8 0ZM311.5 126a1.4 1.4 0 1 0 2.8 0a1.4 1.4 0 1 0 -2.8 0ZM314.55 126.26a1.4 1.4 0 1 0 2.8 0a1.4 1.4 0 1 0 -2.8 0ZM317.6 126.53a1.4 1.4 0 1 0 2.8 0a1.4 1.4 0 1 0 -2.8 0ZM320.65 126.74a1.4 1.4 0 1 0 2.8 0a1.4 1.4 0 1 0 -2.8 0ZM323.7 126.97a1.4 1.4 0 1 0 2.8 0a1.4 1.4 0 1 0 -2.8 0ZM326.75 127.14a1.4 1.4 0 1 0 2.8 0a1.4 1.4 0 1 0 -2.8 0ZM329.8 127.22a1.4 1.4 0 1 0 2.8 0a1.4 1.4 0 1 0 -2.8 0ZM332.85 127.26a1.4 1.4 0 1 0 2.8 0a1.4 1.4 0 1 0 -2.8 0ZM335.9 127.29a1.4 1.4 0 1 0 2.8 0a1.4 1.4 0 1 0 -2.8 0ZM338.95 127.3a1.4 1.4 0 1 0 2.8 0a1.4 1.4 0 1 0 -2.8 0ZM342 127.27a1.4 1.4 0 1 0 2.8 0a1.4 1.4 0 1 0 -2.8 0ZM345.05 127.2a1.4 1.4 0 1 0 2.8 0a1.4 1.4 0 1 0 -2.8 0ZM348.1 127.11a1.4 1.4 0 1 0 2.8 0a1.4 1.4 0 1 0 -2.8 0ZM351.15 126.99a1.4 1.4 0 1 0 2.8 0a1.4 1.4 0 1 0 -2.8 0ZM354.2 126.81a1.4 1.4 0 1 0 2.8 0a1.4 1.4 0 1 0 -2.8 0ZM357.25 126.59a1.4 1.4 0 1 0 2.8 0a1.4 1.4 0 1 0 -2.8 0ZM360.3 126.39a1.4 1.4 0 1 0 2.8 0a1.4 1.4 0 1 0 -2.8 0ZM363.35 126.18a1.4 1.4 0 1 0 2.8 0a1.4 1.4 0 1 0 -2.8 0ZM366.4 125.93a1.4 1.4 0 1 0 2.8 0a1.4 1.4 0 1 0 -2.8 0ZM369.45 125.59a1.4 1.4 0 1 0 2.8 0a1.4 1.4 0 1 0 -2.8 0ZM372.5 125.08a1.4 1.4 0 1 0 2.8 0a1.4 1.4 0 1 0 -2.8 0ZM375.55 124.41a1.4 1.4 0 1 0 2.8 0a1.4 1.4 0 1 0 -2.8 0ZM378.6 123.7a1.4 1.4 0 1 0 2.8 0a1.4 1.4 0 1 0 -2.8 0ZM381.65 122.96a1.4 1.4 0 1 0 2.8 0a1.4 1.4 0 1 0 -2.8 0ZM384.7 122.13a1.4 1.4 0 1 0 2.8 0a1.4 1.4 0 1 0 -2.8 0ZM387.75 121.19a1.4 1.4 0 1 0 2.8 0a1.4 1.4 0 1 0 -2.8 0ZM390.8 120.07a1.4 1.4 0 1 0 2.8 0a1.4 1.4 0 1 0 -2.8 0ZM393.85 118.72a1.4 1.4 0 1 0 2.8 0a1.4 1.4 0 1 0 -2.8 0ZM396.9 117.2a1.4 1.4 0 1 0 2.8 0a1.4 1.4 0 1 0 -2.8 0ZM399.95 115.54a1.4 1.4 0 1 0 2.8 0a1.4 1.4 0 1 0 -2.8 0ZM403 113.64a1.4 1.4 0 1 0 2.8 0a1.4 1.4 0 1 0 -2.8 0ZM406.05 111.58a1.4 1.4 0 1 0 2.8 0a1.4 1.4 0 1 0 -2.8 0ZM409.1 109.45a1.4 1.4 0 1 0 2.8 0a1.4 1.4 0 1 0 -2.8 0ZM412.15 107.27a1.4 1.4 0 1 0 2.8 0a1.4 1.4 0 1 0 -2.8 0ZM415.2 105.01a1.4 1.4 0 1 0 2.8 0a1.4 1.4 0 1 0 -2.8 0ZM418.25 102.67a1.4 1.4 0 1 0 2.8 0a1.4 1.4 0 1 0 -2.8 0ZM421.3 100.24a1.4 1.4 0 1 0 2.8 0a1.4 1.4 0 1 0 -2.8 0Z" fill="#a400d8"/>
<polyline points="282.4,79.7 285.45,79.76 288.5,79.91 291.55,80.16 294.6,80.71 297.65,81.41 300.7,82.03 303.75,82.63 306.8,83.25 309.85,83.87 312.9,84.45 315.95,84.97 319,85.39 322.05,85.71 325.1,85.97 328.15,86.21 331.2,86.42 334.25,86.62 337.3,86.82 340.35,87.03 343.4,87.27 346.45,87.54 349.5,87.8 352.55,88.02 355.6,88.16 358.65,88.2 361.7,88.14 364.75,88 367.8,87.81 370.85,87.55 373.9,87.26 376.95,86.93 380,86.59 383.05,86.23 386.1,85.87 389.15,85.43 392.2,84.92 395.25,84.34 398.3,83.7 401.35,83.02 404.4,82.29 407.45,81.54 410.5,80.77 413.55,79.92 416.6,78.98 419.65,77.97 422.7,76.91" fill="none" stroke="#12c6c6" stroke-width="0.5" opacity="0.35"/>
<path d="M280.8 80.7L283.36 77.7L284 80.7ZM283.85 80.76L286.41 77.76L287.05 80.76ZM286.9 80.91L289.46 77.91L290.1 80.91ZM289.95 81.16L292.51 78.16L293.15 81.16ZM293 81.71L295.56 78.71L296.2 81.71ZM296.05 82.41L298.61 79.41L299.25 82.41ZM299.1 83.03L301.66 80.03L302.3 83.03ZM302.15 83.63L304.71 80.63L305.35 83.63ZM305.2 84.25L307.76 81.25L308.4 84.25ZM308.25 84.87L310.81 81.87L311.45 84.87ZM311.3 85.45L313.86 82.45L314.5 85.45ZM314.35 85.97L316.91 82.97L317.55 85.97ZM317.4 86.39L319.96 83.39L320.6 86.39ZM320.45 86.71L323.01 83.71L323.65 86.71ZM323.5 86.97L326.06 83.97L326.7 86.97ZM326.55 87.21L329.11 84.21L329.75 87.21ZM329.6 87.42L332.16 84.42L332.8 87.42ZM332.65 87.62L335.21 84.62L335.85 87.62ZM335.7 87.82L338.26 84.82L338.9 87.82ZM338.75 88.03L341.31 85.03L341.95 88.03ZM341.8 88.27L344.36 85.27L345 88.27ZM344.85 88.54L347.41 85.54L348.05 88.54ZM347.9 88.8L350.46 85.8L351.1 88.8ZM350.95 89.02L353.51 86.02L354.15 89.02ZM354 89.16L356.56 86.16L357.2 89.16ZM357.05 89.2L359.61 86.2L360.25 89.2ZM360.1 89.14L362.66 86.14L363.3 89.14ZM363.15 89L365.71 86L366.35 89ZM366.2 88.81L368.76 85.81L369.4 88.81ZM369.25 88.55L371.81 85.55L372.45 88.55ZM372.3 88.26L374.86 85.26L375.5 88.26ZM375.35 87.93L377.91 84.93L378.55 87.93ZM378.4 87.59L380.96 84.59L381.6 87.59ZM381.45 87.23L384.01 84.23L384.65 87.23ZM384.5 86.87L387.06 83.87L387.7 86.87ZM387.55 86.43L390.11 83.43L390.75 86.43ZM390.6 85.92L393.16 82.92L393.8 85.92ZM393.65 85.34L396.21 82.34L396.85 85.34ZM396.7 84.7L399.26 81.7L399.9 84.7ZM399.75 84.02L402.31 81.02L402.95 84.02ZM402.8 83.29L405.36 80.29L406 83.29ZM405.85 82.54L408.41 79.54L409.05 82.54ZM408.9 81.77L411.46 78.77L412.1 81.77ZM411.95 80.92L414.51 77.92L415.15 80.92ZM415 79.98L417.56 76.98L418.2 79.98ZM418.05 78.97L420.61 75.97L421.25 78.97ZM421.1 77.91L423.66 74.91L424.3 77.91Z" fill="#12c6c6"/>
<polyline points="282.4,72.2 285.45,73.53 288.5,76.98 291.55,79.65 294.6,81.13 297.65,82.02 300.7,82.78 303.75,83.61 306.8,84.35 309.85,84.79 312.9,84.98 315.95,85.14 319,85.28 322.05,85.38 325.1,85.45 328.15,85.49 331.2,85.5 334.25,85.46 337.3,85.39 340.35,85.28 343.4,85.15 346.45,85 349.5,84.83 352.55,84.58 355.6,84.2 358.65,83.83 361.7,83.49 364.75,83.17 367.8,82.85 370.85,82.53 373.9,82.2 376.95,81.87 380,81.52 383.05,81.15 386.1,80.76 389.15,80.36 392.2,79.95 395.25,79.53 398.3,79.08 401.35,78.6 404.4,78.08 407.45,77.52 410.5,76.89 413.55,76.15 416.6,75.28 419.65,74.32 422.7,73.3" fill="none" stroke="#ff5e0e" stroke-width="0.5" opacity="0.35"/>
<path d="M280.8 73.2L283.36 70.2L284 73.2ZM283.85 74.53L286.41 71.53L287.05 74.53ZM286.9 77.98L289.46 74.98L290.1 77.98ZM289.95 80.65L292.51 77.65L293.15 80.65ZM293 82.13L295.56 79.13L296.2 82.13ZM296.05 83.02L298.61 80.02L299.25 83.02ZM299.1 83.78L301.66 80.78L302.3 83.78ZM302.15 84.61L304.71 81.61L305.35 84.61ZM305.2 85.35L307.76 82.35L308.4 85.35ZM308.25 85.79L310.81 82.79L311.45 85.79ZM311.3 85.98L313.86 82.98L314.5 85.98ZM314.35 86.14L316.91 83.14L317.55 86.14ZM317.4 86.28L319.96 83.28L320.6 86.28ZM320.45 86.38L323.01 83.38L323.65 86.38ZM323.5 86.45L326.06 83.45L326.7 86.45ZM326.55 86.49L329.11 83.49L329.75 86.49ZM329.6 86.5L332.16 83.5L332.8 86.5ZM332.65 86.46L335.21 83.46L335.85 86.46ZM335.7 86.39L338.26 83.39L338.9 86.39ZM338.75 86.28L341.31 83.28L341.95 86.28ZM341.8 86.15L344.36 83.15L345 86.15ZM344.85 86L347.41 83L348.05 86ZM347.9 85.83L350.46 82.83L351.1 85.83ZM350.95 85.58L353.51 82.58L354.15 85.58ZM354 85.2L356.56 82.2L357.2 85.2ZM357.05 84.83L359.61 81.83L360.25 84.83ZM360.1 84.49L362.66 81.49L363.3 84.49ZM363.15 84.17L365.71 81.17L366.35 84.17ZM366.2 83.85L368.76 80.85L369.4 83.85ZM369.25 83.53L371.81 80.53L372.45 83.53ZM372.3 83.2L374.86 80.2L375.5 83.2ZM375.35 82.87L377.91 79.87L378.55 82.87ZM378.4 82.52L380.96 79.52L381.6 82.52ZM381.45 82.15L384.01 79.15L384.65 82.15ZM384.5 81.76L387.06 78.76L387.7 81.76ZM387.55 81.36L390.11 78.36L390.75 81.36ZM390.6 80.95L393.16 77.95L393.8 80.95ZM393.65 80.53L396.21 77.53L396.85 80.53ZM396.7 80.08L399.26 77.08L399.9 80.08ZM399.75 79.6L402.31 76.6L402.95 79.6ZM402.8 79.08L405.36 76.08L406 79.08ZM405.85 78.52L408.41 75.52L409.05 78.52ZM408.9 77.89L411.46 74.89L412.1 77.89ZM411.95 77.15L414.51 74.15L415.15 77.15ZM415 76.28L417.56 73.28L418.2 76.28ZM418.05 75.32L420.61 72.32L421.25 75.32ZM421.1 74.3L423.66 71.3L424.3 74.3Z" fill="#ff5e0e"/>
<polyline points="282.4,72.5 285.45,72.59 288.5,72.69 291.55,72.81 294.6,72.94 297.65,73.08 300.7,73.24 303.75,73.42 306.8,73.63 309.85,73.86 312.9,74.1 315.95,74.33 319,74.54 322.05,74.73 325.1,74.95 328.15,75.18 331.2,75.38 334.25,75.55 337.3,75.66 340.35,75.7 343.4,75.59 346.45,75.36 349.5,75.04 352.55,74.68 355.6,74.33 358.65,73.97 361.7,73.57 364.75,73.11 367.8,72.6 370.85,72.03 373.9,71.36 376.95,70.58 380,69.72 383.05,68.81 386.1,67.85 389.15,66.84 392.2,65.75 395.25,64.56 398.3,63.27 401.35,61.85 404.4,60.22 407.45,58.42 410.5,56.49 413.55,54.47 416.6,52.39 419.65,50.13 422.7,47.74" fill="none" stroke="#5a90da" stroke-width="0.5" opacity="0.35"/>
<path d="M280.8 73.5L283.36 70.5L284 73.5ZM283.85 73.59L286.41 70.59L287.05 73.59ZM286.9 73.69L289.46 70.69L290.1 73.69ZM289.95 73.81L292.51 70.81L293.15 73.81ZM293 73.94L295.56 70.94L296.2 73.94ZM296.05 74.08L298.61 71.08L299.25 74.08ZM299.1 74.24L301.66 71.24L302.3 74.24ZM302.15 74.42L304.71 71.42L305.35 74.42ZM305.2 74.63L307.76 71.63L308.4 74.63ZM308.25 74.86L310.81 71.86L311.45 74.86ZM311.3 75.1L313.86 72.1L314.5 75.1ZM314.35 75.33L316.91 72.33L317.55 75.33ZM317.4 75.54L319.96 72.54L320.6 75.54ZM320.45 75.73L323.01 72.73L323.65 75.73ZM323.5 75.95L326.06 72.95L326.7 75.95ZM326.55 76.18L329.11 73.18L329.75 76.18ZM329.6 76.38L332.16 73.38L332.8 76.38ZM332.65 76.55L335.21 73.55L335.85 76.55ZM335.7 76.66L338.26 73.66L338.9 76.66ZM338.75 76.7L341.31 73.7L341.95 76.7ZM341.8 76.59L344.36 73.59L345 76.59ZM344.85 76.36L347.41 73.36L348.05 76.36ZM347.9 76.04L350.46 73.04L351.1 76.04ZM350.95 75.68L353.51 72.68L354.15 75.68ZM354 75.33L356.56 72.33L357.2 75.33ZM357.05 74.97L359.61 71.97L360.25 74.97ZM360.1 74.57L362.66 71.57L363.3 74.57ZM363.15 74.11L365.71 71.11L366.35 74.11ZM366.2 73.6L368.76 70.6L369.4 73.6ZM369.25 73.03L371.81 70.03L372.45 73.03ZM372.3 72.36L374.86 69.36L375.5 72.36ZM375.35 71.58L377.91 68.58L378.55 71.58ZM378.4 70.72L380.96 67.72L381.6 70.72ZM381.45 69.81L384.01 66.81L384.65 69.81ZM384.5 68.85L387.06 65.85L387.7 68.85ZM387.55 67.84L390.11 64.84L390.75 67.84ZM390.6 66.75L393.16 63.75L393.8 66.75ZM393.65 65.56L396.21 62.56L396.85 65.56ZM396.7 64.27L399.26 61.27L399.9 64.27ZM399.75 62.85L402.31 59.85L402.95 62.85ZM402.8 61.22L405.36 58.22L406 61.22ZM405.85 59.42L408.41 56.42L409.05 59.42ZM408.9 57.49L411.46 54.49L412.1 57.49ZM411.95 55.47L414.51 52.47L415.15 55.47ZM415 53.39L417.56 50.39L418.2 53.39ZM418.05 51.13L420.61 48.13L421.25 51.13ZM421.1 48.74L423.66 45.74L424.3 48.74Z" fill="#5a90da"/>
<rect x="280.8" y="17.2" width="153" height="132.3" fill="none" stroke="#4a4a4a" stroke-width="1.3"/>
<line x1="282.4" y1="149.5" x2="282.4" y2="146.9" stroke="#222" stroke-width="0.9"/>
<text transform="translate(282.4 157.1) scale(0.92 1)" font-size="5.2" text-anchor="middle" stroke="#000" stroke-width="0.15" font-weight="bold">0</text>
<line x1="297.5" y1="149.5" x2="297.5" y2="148" stroke="#222" stroke-width="0.9"/>
<line x1="312.6" y1="149.5" x2="312.6" y2="146.9" stroke="#222" stroke-width="0.9"/>
<text transform="translate(312.6 157.1) scale(0.92 1)" font-size="5.2" text-anchor="middle" stroke="#000" stroke-width="0.15" font-weight="bold">200</text>
<line x1="327.7" y1="149.5" x2="327.7" y2="148" stroke="#222" stroke-width="0.9"/>
<line x1="342.8" y1="149.5" x2="342.8" y2="146.9" stroke="#222" stroke-width="0.9"/>
<text transform="translate(342.8 157.1) scale(0.92 1)" font-size="5.2" text-anchor="middle" stroke="#000" stroke-width="0.15" font-weight="bold">400</text>
<line x1="357.9" y1="149.5" x2="357.9" y2="148" stroke="#222" stroke-width="0.9"/>
<line x1="373" y1="149.5" x2="373" y2="146.9" stroke="#222" stroke-width="0.9"/>
<text transform="translate(373 157.1) scale(0.92 1)" font-size="5.2" text-anchor="middle" stroke="#000" stroke-width="0.15" font-weight="bold">600</text>
<line x1="388.1" y1="149.5" x2="388.1" y2="148" stroke="#222" stroke-width="0.9"/>
<line x1="403.2" y1="149.5" x2="403.2" y2="146.9" stroke="#222" stroke-width="0.9"/>
<text transform="translate(403.2 157.1) scale(0.92 1)" font-size="5.2" text-anchor="middle" stroke="#000" stroke-width="0.15" font-weight="bold">800</text>
<line x1="418.3" y1="149.5" x2="418.3" y2="148" stroke="#222" stroke-width="0.9"/>
<line x1="433.4" y1="149.5" x2="433.4" y2="146.9" stroke="#222" stroke-width="0.9"/>
<text transform="translate(433.4 157.1) scale(0.92 1)" font-size="5.2" text-anchor="middle" stroke="#000" stroke-width="0.15" font-weight="bold">1000</text>
<line x1="280.8" y1="149.5" x2="283.4" y2="149.5" stroke="#222" stroke-width="0.9"/>
<text transform="translate(278.5 151.4) scale(0.85 1)" font-size="5.5" text-anchor="end" stroke="#000" stroke-width="0.15" font-weight="bold">30</text>
<line x1="280.8" y1="130.65" x2="282.3" y2="130.65" stroke="#222" stroke-width="0.9"/>
<line x1="280.8" y1="111.8" x2="283.4" y2="111.8" stroke="#222" stroke-width="0.9"/>
<text transform="translate(278.5 113.7) scale(0.85 1)" font-size="5.5" text-anchor="end" stroke="#000" stroke-width="0.15" font-weight="bold">35</text>
<line x1="280.8" y1="92.95" x2="282.3" y2="92.95" stroke="#222" stroke-width="0.9"/>
<line x1="280.8" y1="74.1" x2="283.4" y2="74.1" stroke="#222" stroke-width="0.9"/>
<text transform="translate(278.5 76) scale(0.85 1)" font-size="5.5" text-anchor="end" stroke="#000" stroke-width="0.15" font-weight="bold">40</text>
<line x1="280.8" y1="55.25" x2="282.3" y2="55.25" stroke="#222" stroke-width="0.9"/>
<line x1="280.8" y1="36.4" x2="283.4" y2="36.4" stroke="#222" stroke-width="0.9"/>
<text transform="translate(278.5 38.3) scale(0.85 1)" font-size="5.5" text-anchor="end" stroke="#000" stroke-width="0.15" font-weight="bold">45</text>
<line x1="280.8" y1="17.55" x2="282.3" y2="17.55" stroke="#222" stroke-width="0.9"/>
<line x1="433.8" y1="143.2" x2="431.2" y2="143.2" stroke="#222" stroke-width="0.9"/>
<text transform="translate(436.3 145.1) scale(0.85 1)" font-size="5.5" text-anchor="start" stroke="#000" stroke-width="0.15" font-weight="bold">0</text>
<line x1="433.8" y1="130.62" x2="432.3" y2="130.62" stroke="#222" stroke-width="0.9"/>
<line x1="433.8" y1="118.04" x2="431.2" y2="118.04" stroke="#222" stroke-width="0.9"/>
<text transform="translate(436.3 119.94) scale(0.85 1)" font-size="5.5" text-anchor="start" stroke="#000" stroke-width="0.15" font-weight="bold">2</text>
<line x1="433.8" y1="105.46" x2="432.3" y2="105.46" stroke="#222" stroke-width="0.9"/>
<line x1="433.8" y1="92.88" x2="431.2" y2="92.88" stroke="#222" stroke-width="0.9"/>
<text transform="translate(436.3 94.78) scale(0.85 1)" font-size="5.5" text-anchor="start" stroke="#000" stroke-width="0.15" font-weight="bold">4</text>
<line x1="433.8" y1="80.3" x2="432.3" y2="80.3" stroke="#222" stroke-width="0.9"/>
<line x1="433.8" y1="67.72" x2="431.2" y2="67.72" stroke="#222" stroke-width="0.9"/>
<text transform="translate(436.3 69.62) scale(0.85 1)" font-size="5.5" text-anchor="start" stroke="#000" stroke-width="0.15" font-weight="bold">6</text>
<line x1="433.8" y1="55.14" x2="432.3" y2="55.14" stroke="#222" stroke-width="0.9"/>
<line x1="433.8" y1="42.56" x2="431.2" y2="42.56" stroke="#222" stroke-width="0.9"/>
<text transform="translate(436.3 44.46) scale(0.85 1)" font-size="5.5" text-anchor="start" stroke="#000" stroke-width="0.15" font-weight="bold">8</text>
<line x1="433.8" y1="29.98" x2="432.3" y2="29.98" stroke="#222" stroke-width="0.9"/>
<line x1="433.8" y1="17.4" x2="431.2" y2="17.4" stroke="#222" stroke-width="0.9"/>
<text transform="translate(436.3 19.3) scale(0.85 1)" font-size="5.5" text-anchor="start" stroke="#000" stroke-width="0.15" font-weight="bold">10</text>
<text x="357.5" y="167.8" font-size="7.1" text-anchor="middle" stroke="#000" stroke-width="0.25" font-weight="bold" textLength="21" lengthAdjust="spacingAndGlyphs">Time (s)</text>
<text x="271" y="83.5" font-size="7" text-anchor="middle" stroke="#000" stroke-width="0.25" font-weight="bold" textLength="51.3" lengthAdjust="spacingAndGlyphs" transform="rotate(-90 271 83.5)">Temperature (°C)</text>
<text x="450" y="82.3" font-size="7" text-anchor="middle" stroke="#000" stroke-width="0.25" font-weight="bold" textLength="22" lengthAdjust="spacingAndGlyphs" transform="rotate(-90 450 82.3)">ΔT (°C)</text>
<text x="340.1" y="12.7" font-size="12.6" text-anchor="start" stroke="#000" stroke-width="0.3" font-weight="bold" textLength="43.9" lengthAdjust="spacingAndGlyphs">(b) 25 <tspan stroke-width="0.55">°</tspan>C</text>
<line x1="296.7" y1="29.8" x2="308.7" y2="29.8" stroke="#12c6c6" stroke-width="0.5" opacity="0.5"/>
<path d="M301.1 30.8L303.66 27.8L304.3 30.8Z" fill="#12c6c6"/>
<text transform="translate(312.1 32.4) scale(0.84 1)" font-size="6.9" font-weight="bold" text-anchor="start" stroke="#000" stroke-width="0.3">T<tspan font-size="4.83" dy="1.52">1</tspan><tspan dy="-1.52"></tspan></text>
<line x1="296.7" y1="40.1" x2="308.7" y2="40.1" stroke="#ff5e0e" stroke-width="0.5" opacity="0.5"/>
<path d="M301.1 41.1L303.66 38.1L304.3 41.1Z" fill="#ff5e0e"/>
<text transform="translate(312.1 42.7) scale(0.84 1)" font-size="6.9" font-weight="bold" text-anchor="start" stroke="#000" stroke-width="0.3">T<tspan font-size="4.83" dy="1.52">2</tspan><tspan dy="-1.52"></tspan></text>
<line x1="296.7" y1="50.4" x2="308.7" y2="50.4" stroke="#5a90da" stroke-width="0.5" opacity="0.5"/>
<path d="M301.1 51.4L303.66 48.4L304.3 51.4Z" fill="#5a90da"/>
<text transform="translate(312.1 53) scale(0.84 1)" font-size="6.9" font-weight="bold" text-anchor="start" stroke="#000" stroke-width="0.3">T<tspan font-size="4.83" dy="1.52">3</tspan><tspan dy="-1.52"></tspan></text>
<line x1="324.5" y1="29.8" x2="336.5" y2="29.8" stroke="#7f7f00" stroke-width="0.5" opacity="0.5"/>
<path d="M329.3 29.8a1.2 1.2 0 1 0 2.4 0a1.2 1.2 0 1 0 -2.4 0Z" fill="#7f7f00"/>
<text transform="translate(339.6 32.4) scale(0.84 1)" font-size="6.9" font-weight="bold" text-anchor="start" stroke="#000" stroke-width="0.3">ΔT<tspan font-size="4.83" dy="1.52">13</tspan><tspan dy="-1.52"></tspan></text>
<line x1="324.5" y1="40.1" x2="336.5" y2="40.1" stroke="#a400d8" stroke-width="0.5" opacity="0.5"/>
<path d="M329.3 40.1a1.2 1.2 0 1 0 2.4 0a1.2 1.2 0 1 0 -2.4 0Z" fill="#a400d8"/>
<text transform="translate(339.6 42.7) scale(0.84 1)" font-size="6.9" font-weight="bold" text-anchor="start" stroke="#000" stroke-width="0.3">ΔT<tspan font-size="4.83" dy="1.52">23</tspan><tspan dy="-1.52"></tspan></text>
<text x="366.6" y="50.4" font-size="7.2" font-weight="bold" text-anchor="start" stroke="#000" stroke-width="0.25" textLength="31.3" lengthAdjust="spacingAndGlyphs">T<tspan font-size="5.04" dy="1.58">3</tspan><tspan dy="-1.58">=43.56°C</tspan></text>
<line x1="398.2" y1="47" x2="422.5" y2="46.3" stroke="#666" stroke-width="0.5"/>
<path d="M422.5 46.3L419.54 47.69L419.46 45.09Z" fill="#111"/>
<text x="357.9" y="103.5" font-size="7.2" font-weight="bold" text-anchor="start" stroke="#000" stroke-width="0.25" textLength="35.2" lengthAdjust="spacingAndGlyphs">ΔT<tspan font-size="5.04" dy="1.58">13</tspan><tspan dy="-1.58">=3.92°C</tspan></text>
<line x1="393.5" y1="101" x2="421.5" y2="93.5" stroke="#666" stroke-width="0.5"/>
<path d="M421.5 93.5L418.94 95.53L418.27 93.02Z" fill="#111"/>
<polyline points="20,308.8 22.9,306.97 25.8,304.86 28.7,302.33 31.6,300.31 34.5,298.95 37.4,298.9 40.3,299.08 43.2,299.48 46.1,299.58 49,299.36 51.9,299 54.8,298.62 57.7,298.3 60.6,297.95 63.5,297.5 66.4,296.68 69.3,295.38 72.2,295.39 75.1,295.66 78,295.93 80.9,295.97 83.8,295.48 86.7,294.64 89.6,293.72 92.5,292.77 95.4,291.65 98.3,290.55 101.2,289.66 104.1,288.92 107,288.23 109.9,287.53 112.8,286.83 115.7,286.14 118.6,285.35 121.5,284.32 124.4,282.92 127.3,281.31 130.2,279.69 133.1,278.18 136,276.62 138.9,274.8 141.8,272.28 144.7,269.16 147.6,267.06 150.5,264.84 153.4,261.64 156.3,257.38" fill="none" stroke="#7f7f00" stroke-width="0.5" opacity="0.35"/>
<path d="M20 307.1L20.6 307.97L21.62 308.27L20.97 309.12L21 310.18L20 309.82L19 310.18L19.03 309.12L18.38 308.27L19.4 307.97ZM22.9 305.27L23.5 306.14L24.52 306.44L23.87 307.28L23.9 308.34L22.9 307.99L21.9 308.34L21.93 307.28L21.28 306.44L22.3 306.14ZM25.8 303.16L26.4 304.03L27.42 304.33L26.77 305.17L26.8 306.23L25.8 305.88L24.8 306.23L24.83 305.17L24.18 304.33L25.2 304.03ZM28.7 300.63L29.3 301.51L30.32 301.81L29.67 302.65L29.7 303.71L28.7 303.35L27.7 303.71L27.73 302.65L27.08 301.81L28.1 301.51ZM31.6 298.61L32.2 299.49L33.22 299.79L32.57 300.63L32.6 301.69L31.6 301.33L30.6 301.69L30.63 300.63L29.98 299.79L31 299.49ZM34.5 297.25L35.1 298.13L36.12 298.43L35.47 299.27L35.5 300.33L34.5 299.97L33.5 300.33L33.53 299.27L32.88 298.43L33.9 298.13ZM37.4 297.2L38 298.07L39.02 298.37L38.37 299.22L38.4 300.28L37.4 299.92L36.4 300.28L36.43 299.22L35.78 298.37L36.8 298.07ZM40.3 297.38L40.9 298.25L41.92 298.55L41.27 299.39L41.3 300.45L40.3 300.1L39.3 300.45L39.33 299.39L38.68 298.55L39.7 298.25ZM43.2 297.78L43.8 298.66L44.82 298.96L44.17 299.8L44.2 300.86L43.2 300.5L42.2 300.86L42.23 299.8L41.58 298.96L42.6 298.66ZM46.1 297.88L46.7 298.75L47.72 299.05L47.07 299.89L47.1 300.95L46.1 300.6L45.1 300.95L45.13 299.89L44.48 299.05L45.5 298.75ZM49 297.66L49.6 298.53L50.62 298.83L49.97 299.68L50 300.74L49 300.38L48 300.74L48.03 299.68L47.38 298.83L48.4 298.53ZM51.9 297.3L52.5 298.18L53.52 298.48L52.87 299.32L52.9 300.38L51.9 300.02L50.9 300.38L50.93 299.32L50.28 298.48L51.3 298.18ZM54.8 296.92L55.4 297.8L56.42 298.1L55.77 298.94L55.8 300L54.8 299.64L53.8 300L53.83 298.94L53.18 298.1L54.2 297.8ZM57.7 296.6L58.3 297.47L59.32 297.77L58.67 298.61L58.7 299.67L57.7 299.32L56.7 299.67L56.73 298.61L56.08 297.77L57.1 297.47ZM60.6 296.25L61.2 297.12L62.22 297.42L61.57 298.26L61.6 299.32L60.6 298.97L59.6 299.32L59.63 298.26L58.98 297.42L60 297.12ZM63.5 295.8L64.1 296.67L65.12 296.97L64.47 297.81L64.5 298.87L63.5 298.52L62.5 298.87L62.53 297.81L61.88 296.97L62.9 296.67ZM66.4 294.98L67 295.85L68.02 296.15L67.37 297L67.4 298.06L66.4 297.7L65.4 298.06L65.43 297L64.78 296.15L65.8 295.85ZM69.3 293.68L69.9 294.56L70.92 294.86L70.27 295.7L70.3 296.76L69.3 296.4L68.3 296.76L68.33 295.7L67.68 294.86L68.7 294.56ZM72.2 293.69L72.8 294.56L73.82 294.86L73.17 295.7L73.2 296.76L72.2 296.41L71.2 296.76L71.23 295.7L70.58 294.86L71.6 294.56ZM75.1 293.96L75.7 294.84L76.72 295.14L76.07 295.98L76.1 297.04L75.1 296.68L74.1 297.04L74.13 295.98L73.48 295.14L74.5 294.84ZM78 294.23L78.6 295.1L79.62 295.4L78.97 296.24L79 297.3L78 296.95L77 297.3L77.03 296.24L76.38 295.4L77.4 295.1ZM80.9 294.27L81.5 295.14L82.52 295.44L81.87 296.28L81.9 297.34L80.9 296.99L79.9 297.34L79.93 296.28L79.28 295.44L80.3 295.14ZM83.8 293.78L84.4 294.66L85.42 294.96L84.77 295.8L84.8 296.86L83.8 296.5L82.8 296.86L82.83 295.8L82.18 294.96L83.2 294.66ZM86.7 292.94L87.3 293.81L88.32 294.11L87.67 294.95L87.7 296.01L86.7 295.66L85.7 296.01L85.73 294.95L85.08 294.11L86.1 293.81ZM89.6 292.02L90.2 292.89L91.22 293.19L90.57 294.03L90.6 295.09L89.6 294.74L88.6 295.09L88.63 294.03L87.98 293.19L89 292.89ZM92.5 291.07L93.1 291.95L94.12 292.25L93.47 293.09L93.5 294.15L92.5 293.79L91.5 294.15L91.53 293.09L90.88 292.25L91.9 291.95ZM95.4 289.95L96 290.83L97.02 291.13L96.37 291.97L96.4 293.03L95.4 292.67L94.4 293.03L94.43 291.97L93.78 291.13L94.8 290.83ZM98.3 288.85L98.9 289.73L99.92 290.03L99.27 290.87L99.3 291.93L98.3 291.57L97.3 291.93L97.33 290.87L96.68 290.03L97.7 289.73ZM101.2 287.96L101.8 288.83L102.82 289.13L102.17 289.97L102.2 291.03L101.2 290.68L100.2 291.03L100.23 289.97L99.58 289.13L100.6 288.83ZM104.1 287.22L104.7 288.09L105.72 288.39L105.07 289.23L105.1 290.29L104.1 289.94L103.1 290.29L103.13 289.23L102.48 288.39L103.5 288.09ZM107 286.53L107.6 287.4L108.62 287.7L107.97 288.54L108 289.6L107 289.25L106 289.6L106.03 288.54L105.38 287.7L106.4 287.4ZM109.9 285.83L110.5 286.7L111.52 287L110.87 287.84L110.9 288.9L109.9 288.55L108.9 288.9L108.93 287.84L108.28 287L109.3 286.7ZM112.8 285.13L113.4 286L114.42 286.3L113.77 287.14L113.8 288.2L112.8 287.85L111.8 288.2L111.83 287.14L111.18 286.3L112.2 286ZM115.7 284.44L116.3 285.32L117.32 285.62L116.67 286.46L116.7 287.52L115.7 287.16L114.7 287.52L114.73 286.46L114.08 285.62L115.1 285.32ZM118.6 283.65L119.2 284.53L120.22 284.83L119.57 285.67L119.6 286.73L118.6 286.37L117.6 286.73L117.63 285.67L116.98 284.83L118 284.53ZM121.5 282.62L122.1 283.5L123.12 283.8L122.47 284.64L122.5 285.7L121.5 285.34L120.5 285.7L120.53 284.64L119.88 283.8L120.9 283.5ZM124.4 281.22L125 282.09L126.02 282.39L125.37 283.24L125.4 284.3L124.4 283.94L123.4 284.3L123.43 283.24L122.78 282.39L123.8 282.09ZM127.3 279.61L127.9 280.49L128.92 280.79L128.27 281.63L128.3 282.69L127.3 282.33L126.3 282.69L126.33 281.63L125.68 280.79L126.7 280.49ZM130.2 277.99L130.8 278.87L131.82 279.17L131.17 280.01L131.2 281.07L130.2 280.71L129.2 281.07L129.23 280.01L128.58 279.17L129.6 278.87ZM133.1 276.48L133.7 277.35L134.72 277.65L134.07 278.49L134.1 279.55L133.1 279.2L132.1 279.55L132.13 278.49L131.48 277.65L132.5 277.35ZM136 274.92L136.6 275.79L137.62 276.09L136.97 276.93L137 277.99L136 277.64L135 277.99L135.03 276.93L134.38 276.09L135.4 275.79ZM138.9 273.1L139.5 273.98L140.52 274.28L139.87 275.12L139.9 276.18L138.9 275.82L137.9 276.18L137.93 275.12L137.28 274.28L138.3 273.98ZM141.8 270.58L142.4 271.46L143.42 271.76L142.77 272.6L142.8 273.66L141.8 273.3L140.8 273.66L140.83 272.6L140.18 271.76L141.2 271.46ZM144.7 267.46L145.3 268.34L146.32 268.64L145.67 269.48L145.7 270.54L144.7 270.18L143.7 270.54L143.73 269.48L143.08 268.64L144.1 268.34ZM147.6 265.36L148.2 266.24L149.22 266.54L148.57 267.38L148.6 268.44L147.6 268.08L146.6 268.44L146.63 267.38L145.98 266.54L147 266.24ZM150.5 263.14L151.1 264.02L152.12 264.32L151.47 265.16L151.5 266.22L150.5 265.86L149.5 266.22L149.53 265.16L148.88 264.32L149.9 264.02ZM153.4 259.94L154 260.82L155.02 261.12L154.37 261.96L154.4 263.02L153.4 262.66L152.4 263.02L152.43 261.96L151.78 261.12L152.8 260.82ZM156.3 255.68L156.9 256.56L157.92 256.86L157.27 257.7L157.3 258.76L156.3 258.4L155.3 258.76L155.33 257.7L154.68 256.86L155.7 256.56Z" fill="#7f7f00"/>
<polyline points="20,323.3 22.9,319.75 25.8,314.06 28.7,309.49 31.6,306.24 34.5,304.2 37.4,303.41 40.3,302.9 43.2,302.48 46.1,302.22 49,302.04 51.9,301.91 54.8,301.81 57.7,301.73 60.6,301.68 63.5,301.63 66.4,301.58 69.3,301.52 72.2,301.43 75.1,301.33 78,301.2 80.9,301.05 83.8,300.87 86.7,300.64 89.6,300.35 92.5,299.89 95.4,299.22 98.3,298.45 101.2,297.69 104.1,296.92 107,296.08 109.9,295.13 112.8,294.02 115.7,292.73 118.6,291.36 121.5,290 124.4,288.63 127.3,287.16 130.2,285.47 133.1,283.35 136,280.91 138.9,278.46 141.8,276.31 144.7,274.4 147.6,272.39 150.5,269.89 153.4,266.06 156.3,263.83" fill="none" stroke="#a400d8" stroke-width="0.5" opacity="0.35"/>
<path d="M18.6 323.3a1.4 1.4 0 1 0 2.8 0a1.4 1.4 0 1 0 -2.8 0ZM21.5 319.75a1.4 1.4 0 1 0 2.8 0a1.4 1.4 0 1 0 -2.8 0ZM24.4 314.06a1.4 1.4 0 1 0 2.8 0a1.4 1.4 0 1 0 -2.8 0ZM27.3 309.49a1.4 1.4 0 1 0 2.8 0a1.4 1.4 0 1 0 -2.8 0ZM30.2 306.24a1.4 1.4 0 1 0 2.8 0a1.4 1.4 0 1 0 -2.8 0ZM33.1 304.2a1.4 1.4 0 1 0 2.8 0a1.4 1.4 0 1 0 -2.8 0ZM36 303.41a1.4 1.4 0 1 0 2.8 0a1.4 1.4 0 1 0 -2.8 0ZM38.9 302.9a1.4 1.4 0 1 0 2.8 0a1.4 1.4 0 1 0 -2.8 0ZM41.8 302.48a1.4 1.4 0 1 0 2.8 0a1.4 1.4 0 1 0 -2.8 0ZM44.7 302.22a1.4 1.4 0 1 0 2.8 0a1.4 1.4 0 1 0 -2.8 0ZM47.6 302.04a1.4 1.4 0 1 0 2.8 0a1.4 1.4 0 1 0 -2.8 0ZM50.5 301.91a1.4 1.4 0 1 0 2.8 0a1.4 1.4 0 1 0 -2.8 0ZM53.4 301.81a1.4 1.4 0 1 0 2.8 0a1.4 1.4 0 1 0 -2.8 0ZM56.3 301.73a1.4 1.4 0 1 0 2.8 0a1.4 1.4 0 1 0 -2.8 0ZM59.2 301.68a1.4 1.4 0 1 0 2.8 0a1.4 1.4 0 1 0 -2.8 0ZM62.1 301.63a1.4 1.4 0 1 0 2.8 0a1.4 1.4 0 1 0 -2.8 0ZM65 301.58a1.4 1.4 0 1 0 2.8 0a1.4 1.4 0 1 0 -2.8 0ZM67.9 301.52a1.4 1.4 0 1 0 2.8 0a1.4 1.4 0 1 0 -2.8 0ZM70.8 301.43a1.4 1.4 0 1 0 2.8 0a1.4 1.4 0 1 0 -2.8 0ZM73.7 301.33a1.4 1.4 0 1 0 2.8 0a1.4 1.4 0 1 0 -2.8 0ZM76.6 301.2a1.4 1.4 0 1 0 2.8 0a1.4 1.4 0 1 0 -2.8 0ZM79.5 301.05a1.4 1.4 0 1 0 2.8 0a1.4 1.4 0 1 0 -2.8 0ZM82.4 300.87a1.4 1.4 0 1 0 2.8 0a1.4 1.4 0 1 0 -2.8 0ZM85.3 300.64a1.4 1.4 0 1 0 2.8 0a1.4 1.4 0 1 0 -2.8 0ZM88.2 300.35a1.4 1.4 0 1 0 2.8 0a1.4 1.4 0 1 0 -2.8 0ZM91.1 299.89a1.4 1.4 0 1 0 2.8 0a1.4 1.4 0 1 0 -2.8 0ZM94 299.22a1.4 1.4 0 1 0 2.8 0a1.4 1.4 0 1 0 -2.8 0ZM96.9 298.45a1.4 1.4 0 1 0 2.8 0a1.4 1.4 0 1 0 -2.8 0ZM99.8 297.69a1.4 1.4 0 1 0 2.8 0a1.4 1.4 0 1 0 -2.8 0ZM102.7 296.92a1.4 1.4 0 1 0 2.8 0a1.4 1.4 0 1 0 -2.8 0ZM105.6 296.08a1.4 1.4 0 1 0 2.8 0a1.4 1.4 0 1 0 -2.8 0ZM108.5 295.13a1.4 1.4 0 1 0 2.8 0a1.4 1.4 0 1 0 -2.8 0ZM111.4 294.02a1.4 1.4 0 1 0 2.8 0a1.4 1.4 0 1 0 -2.8 0ZM114.3 292.73a1.4 1.4 0 1 0 2.8 0a1.4 1.4 0 1 0 -2.8 0ZM117.2 291.36a1.4 1.4 0 1 0 2.8 0a1.4 1.4 0 1 0 -2.8 0ZM120.1 290a1.4 1.4 0 1 0 2.8 0a1.4 1.4 0 1 0 -2.8 0ZM123 288.63a1.4 1.4 0 1 0 2.8 0a1.4 1.4 0 1 0 -2.8 0ZM125.9 287.16a1.4 1.4 0 1 0 2.8 0a1.4 1.4 0 1 0 -2.8 0ZM128.8 285.47a1.4 1.4 0 1 0 2.8 0a1.4 1.4 0 1 0 -2.8 0ZM131.7 283.35a1.4 1.4 0 1 0 2.8 0a1.4 1.4 0 1 0 -2.8 0ZM134.6 280.91a1.4 1.4 0 1 0 2.8 0a1.4 1.4 0 1 0 -2.8 0ZM137.5 278.46a1.4 1.4 0 1 0 2.8 0a1.4 1.4 0 1 0 -2.8 0ZM140.4 276.31a1.4 1.4 0 1 0 2.8 0a1.4 1.4 0 1 0 -2.8 0ZM143.3 274.4a1.4 1.4 0 1 0 2.8 0a1.4 1.4 0 1 0 -2.8 0ZM146.2 272.39a1.4 1.4 0 1 0 2.8 0a1.4 1.4 0 1 0 -2.8 0ZM149.1 269.89a1.4 1.4 0 1 0 2.8 0a1.4 1.4 0 1 0 -2.8 0ZM152 266.06a1.4 1.4 0 1 0 2.8 0a1.4 1.4 0 1 0 -2.8 0ZM154.9 263.83a1.4 1.4 0 1 0 2.8 0a1.4 1.4 0 1 0 -2.8 0Z" fill="#a400d8"/>
<polyline points="20,251.8 22.9,252.4 25.8,252.93 28.7,253.26 31.6,253.3 34.5,253.3 37.4,253.3 40.3,253.3 43.2,253.3 46.1,253.3 49,253.3 51.9,253.29 54.8,253.24 57.7,253.14 60.6,253.02 63.5,252.87 66.4,252.71 69.3,252.54 72.2,252.35 75.1,252.08 78,251.77 80.9,251.41 83.8,251.03 86.7,250.64 89.6,250.25 92.5,249.88 95.4,249.49 98.3,249.09 101.2,248.68 104.1,248.24 107,247.79 109.9,247.32 112.8,246.81 115.7,246.26 118.6,245.69 121.5,245.09 124.4,244.49 127.3,243.87 130.2,243.26 133.1,242.64 136,242.02 138.9,241.38 141.8,240.73 144.7,240.07 147.6,239.39 150.5,238.7 153.4,238 156.3,237.28" fill="none" stroke="#12c6c6" stroke-width="0.5" opacity="0.35"/>
<path d="M18.4 252.8L20.96 249.8L21.6 252.8ZM21.3 253.4L23.86 250.4L24.5 253.4ZM24.2 253.93L26.76 250.93L27.4 253.93ZM27.1 254.26L29.66 251.26L30.3 254.26ZM30 254.3L32.56 251.3L33.2 254.3ZM32.9 254.3L35.46 251.3L36.1 254.3ZM35.8 254.3L38.36 251.3L39 254.3ZM38.7 254.3L41.26 251.3L41.9 254.3ZM41.6 254.3L44.16 251.3L44.8 254.3ZM44.5 254.3L47.06 251.3L47.7 254.3ZM47.4 254.3L49.96 251.3L50.6 254.3ZM50.3 254.29L52.86 251.29L53.5 254.29ZM53.2 254.24L55.76 251.24L56.4 254.24ZM56.1 254.14L58.66 251.14L59.3 254.14ZM59 254.02L61.56 251.02L62.2 254.02ZM61.9 253.87L64.46 250.87L65.1 253.87ZM64.8 253.71L67.36 250.71L68 253.71ZM67.7 253.54L70.26 250.54L70.9 253.54ZM70.6 253.35L73.16 250.35L73.8 253.35ZM73.5 253.08L76.06 250.08L76.7 253.08ZM76.4 252.77L78.96 249.77L79.6 252.77ZM79.3 252.41L81.86 249.41L82.5 252.41ZM82.2 252.03L84.76 249.03L85.4 252.03ZM85.1 251.64L87.66 248.64L88.3 251.64ZM88 251.25L90.56 248.25L91.2 251.25ZM90.9 250.88L93.46 247.88L94.1 250.88ZM93.8 250.49L96.36 247.49L97 250.49ZM96.7 250.09L99.26 247.09L99.9 250.09ZM99.6 249.68L102.16 246.68L102.8 249.68ZM102.5 249.24L105.06 246.24L105.7 249.24ZM105.4 248.79L107.96 245.79L108.6 248.79ZM108.3 248.32L110.86 245.32L111.5 248.32ZM111.2 247.81L113.76 244.81L114.4 247.81ZM114.1 247.26L116.66 244.26L117.3 247.26ZM117 246.69L119.56 243.69L120.2 246.69ZM119.9 246.09L122.46 243.09L123.1 246.09ZM122.8 245.49L125.36 242.49L126 245.49ZM125.7 244.87L128.26 241.87L128.9 244.87ZM128.6 244.26L131.16 241.26L131.8 244.26ZM131.5 243.64L134.06 240.64L134.7 243.64ZM134.4 243.02L136.96 240.02L137.6 243.02ZM137.3 242.38L139.86 239.38L140.5 242.38ZM140.2 241.73L142.76 238.73L143.4 241.73ZM143.1 241.07L145.66 238.07L146.3 241.07ZM146 240.39L148.56 237.39L149.2 240.39ZM148.9 239.7L151.46 236.7L152.1 239.7ZM151.8 239L154.36 236L155 239ZM154.7 238.28L157.26 235.28L157.9 238.28Z" fill="#12c6c6"/>
<polyline points="20,246.3 22.9,249.6 25.8,251.2 28.7,251.73 31.6,251.8 34.5,251.8 37.4,251.8 40.3,251.8 43.2,251.8 46.1,251.8 49,251.8 51.9,251.78 54.8,251.68 57.7,251.51 60.6,251.29 63.5,251.03 66.4,250.75 69.3,250.47 72.2,250.16 75.1,249.79 78,249.35 80.9,248.88 83.8,248.38 86.7,247.87 89.6,247.37 92.5,246.87 95.4,246.35 98.3,245.81 101.2,245.26 104.1,244.7 107,244.16 109.9,243.62 112.8,243.09 115.7,242.57 118.6,242.06 121.5,241.54 124.4,241.02 127.3,240.5 130.2,239.96 133.1,239.42 136,238.89 138.9,238.34 141.8,237.77 144.7,237.16 147.6,236.52 150.5,235.84 153.4,235.13 156.3,234.38" fill="none" stroke="#ff5e0e" stroke-width="0.5" opacity="0.35"/>
<path d="M18.4 247.3L20.96 244.3L21.6 247.3ZM21.3 250.6L23.86 247.6L24.5 250.6ZM24.2 252.2L26.76 249.2L27.4 252.2ZM27.1 252.73L29.66 249.73L30.3 252.73ZM30 252.8L32.56 249.8L33.2 252.8ZM32.9 252.8L35.46 249.8L36.1 252.8ZM35.8 252.8L38.36 249.8L39 252.8ZM38.7 252.8L41.26 249.8L41.9 252.8ZM41.6 252.8L44.16 249.8L44.8 252.8ZM44.5 252.8L47.06 249.8L47.7 252.8ZM47.4 252.8L49.96 249.8L50.6 252.8ZM50.3 252.78L52.86 249.78L53.5 252.78ZM53.2 252.68L55.76 249.68L56.4 252.68ZM56.1 252.51L58.66 249.51L59.3 252.51ZM59 252.29L61.56 249.29L62.2 252.29ZM61.9 252.03L64.46 249.03L65.1 252.03ZM64.8 251.75L67.36 248.75L68 251.75ZM67.7 251.47L70.26 248.47L70.9 251.47ZM70.6 251.16L73.16 248.16L73.8 251.16ZM73.5 250.79L76.06 247.79L76.7 250.79ZM76.4 250.35L78.96 247.35L79.6 250.35ZM79.3 249.88L81.86 246.88L82.5 249.88ZM82.2 249.38L84.76 246.38L85.4 249.38ZM85.1 248.87L87.66 245.87L88.3 248.87ZM88 248.37L90.56 245.37L91.2 248.37ZM90.9 247.87L93.46 244.87L94.1 247.87ZM93.8 247.35L96.36 244.35L97 247.35ZM96.7 246.81L99.26 243.81L99.9 246.81ZM99.6 246.26L102.16 243.26L102.8 246.26ZM102.5 245.7L105.06 242.7L105.7 245.7ZM105.4 245.16L107.96 242.16L108.6 245.16ZM108.3 244.62L110.86 241.62L111.5 244.62ZM111.2 244.09L113.76 241.09L114.4 244.09ZM114.1 243.57L116.66 240.57L117.3 243.57ZM117 243.06L119.56 240.06L120.2 243.06ZM119.9 242.54L122.46 239.54L123.1 242.54ZM122.8 242.02L125.36 239.02L126 242.02ZM125.7 241.5L128.26 238.5L128.9 241.5ZM128.6 240.96L131.16 237.96L131.8 240.96ZM131.5 240.42L134.06 237.42L134.7 240.42ZM134.4 239.89L136.96 236.89L137.6 239.89ZM137.3 239.34L139.86 236.34L140.5 239.34ZM140.2 238.77L142.76 235.77L143.4 238.77ZM143.1 238.16L145.66 235.16L146.3 238.16ZM146 237.52L148.56 234.52L149.2 237.52ZM148.9 236.84L151.46 233.84L152.1 236.84ZM151.8 236.13L154.36 233.13L155 236.13ZM154.7 235.38L157.26 232.38L157.9 235.38Z" fill="#ff5e0e"/>
<polyline points="20,248.2 22.9,247.34 25.8,246.55 28.7,245.91 31.6,245.48 34.5,245.13 37.4,244.83 40.3,244.56 43.2,244.33 46.1,244.1 49,243.88 51.9,243.65 54.8,243.46 57.7,243.28 60.6,243.1 63.5,242.92 66.4,242.71 69.3,242.47 72.2,242.17 75.1,241.81 78,241.4 80.9,240.94 83.8,240.45 86.7,239.93 89.6,239.38 92.5,238.79 95.4,238.14 98.3,237.43 101.2,236.67 104.1,235.88 107,235.06 109.9,234.23 112.8,233.39 115.7,232.52 118.6,231.62 121.5,230.67 124.4,229.68 127.3,228.63 130.2,227.52 133.1,226.33 136,225.06 138.9,223.68 141.8,222.19 144.7,220.58 147.6,218.75 150.5,216.67 153.4,214.41 156.3,211.95" fill="none" stroke="#5a90da" stroke-width="0.5" opacity="0.35"/>
<path d="M18.4 249.2L20.96 246.2L21.6 249.2ZM21.3 248.34L23.86 245.34L24.5 248.34ZM24.2 247.55L26.76 244.55L27.4 247.55ZM27.1 246.91L29.66 243.91L30.3 246.91ZM30 246.48L32.56 243.48L33.2 246.48ZM32.9 246.13L35.46 243.13L36.1 246.13ZM35.8 245.83L38.36 242.83L39 245.83ZM38.7 245.56L41.26 242.56L41.9 245.56ZM41.6 245.33L44.16 242.33L44.8 245.33ZM44.5 245.1L47.06 242.1L47.7 245.1ZM47.4 244.88L49.96 241.88L50.6 244.88ZM50.3 244.65L52.86 241.65L53.5 244.65ZM53.2 244.46L55.76 241.46L56.4 244.46ZM56.1 244.28L58.66 241.28L59.3 244.28ZM59 244.1L61.56 241.1L62.2 244.1ZM61.9 243.92L64.46 240.92L65.1 243.92ZM64.8 243.71L67.36 240.71L68 243.71ZM67.7 243.47L70.26 240.47L70.9 243.47ZM70.6 243.17L73.16 240.17L73.8 243.17ZM73.5 242.81L76.06 239.81L76.7 242.81ZM76.4 242.4L78.96 239.4L79.6 242.4ZM79.3 241.94L81.86 238.94L82.5 241.94ZM82.2 241.45L84.76 238.45L85.4 241.45ZM85.1 240.93L87.66 237.93L88.3 240.93ZM88 240.38L90.56 237.38L91.2 240.38ZM90.9 239.79L93.46 236.79L94.1 239.79ZM93.8 239.14L96.36 236.14L97 239.14ZM96.7 238.43L99.26 235.43L99.9 238.43ZM99.6 237.67L102.16 234.67L102.8 237.67ZM102.5 236.88L105.06 233.88L105.7 236.88ZM105.4 236.06L107.96 233.06L108.6 236.06ZM108.3 235.23L110.86 232.23L111.5 235.23ZM111.2 234.39L113.76 231.39L114.4 234.39ZM114.1 233.52L116.66 230.52L117.3 233.52ZM117 232.62L119.56 229.62L120.2 232.62ZM119.9 231.67L122.46 228.67L123.1 231.67ZM122.8 230.68L125.36 227.68L126 230.68ZM125.7 229.63L128.26 226.63L128.9 229.63ZM128.6 228.52L131.16 225.52L131.8 228.52ZM131.5 227.33L134.06 224.33L134.7 227.33ZM134.4 226.06L136.96 223.06L137.6 226.06ZM137.3 224.68L139.86 221.68L140.5 224.68ZM140.2 223.19L142.76 220.19L143.4 223.19ZM143.1 221.58L145.66 218.58L146.3 221.58ZM146 219.75L148.56 216.75L149.2 219.75ZM148.9 217.67L151.46 214.67L152.1 217.67ZM151.8 215.41L154.36 212.41L155 215.41ZM154.7 212.95L157.26 209.95L157.9 212.95Z" fill="#5a90da"/>
<rect x="18.9" y="199.4" width="145.9" height="130.7" fill="none" stroke="#4a4a4a" stroke-width="1.3"/>
<line x1="20" y1="330.1" x2="20" y2="327.5" stroke="#222" stroke-width="0.9"/>
<text transform="translate(20 337.7) scale(0.92 1)" font-size="5.2" text-anchor="middle" stroke="#000" stroke-width="0.15" font-weight="bold">0</text>
<line x1="34.5" y1="330.1" x2="34.5" y2="328.6" stroke="#222" stroke-width="0.9"/>
<line x1="49" y1="330.1" x2="49" y2="327.5" stroke="#222" stroke-width="0.9"/>
<text transform="translate(49 337.7) scale(0.92 1)" font-size="5.2" text-anchor="middle" stroke="#000" stroke-width="0.15" font-weight="bold">200</text>
<line x1="63.5" y1="330.1" x2="63.5" y2="328.6" stroke="#222" stroke-width="0.9"/>
<line x1="78" y1="330.1" x2="78" y2="327.5" stroke="#222" stroke-width="0.9"/>
<text transform="translate(78 337.7) scale(0.92 1)" font-size="5.2" text-anchor="middle" stroke="#000" stroke-width="0.15" font-weight="bold">400</text>
<line x1="92.5" y1="330.1" x2="92.5" y2="328.6" stroke="#222" stroke-width="0.9"/>
<line x1="107" y1="330.1" x2="107" y2="327.5" stroke="#222" stroke-width="0.9"/>
<text transform="translate(107 337.7) scale(0.92 1)" font-size="5.2" text-anchor="middle" stroke="#000" stroke-width="0.15" font-weight="bold">600</text>
<line x1="121.5" y1="330.1" x2="121.5" y2="328.6" stroke="#222" stroke-width="0.9"/>
<line x1="136" y1="330.1" x2="136" y2="327.5" stroke="#222" stroke-width="0.9"/>
<text transform="translate(136 337.7) scale(0.92 1)" font-size="5.2" text-anchor="middle" stroke="#000" stroke-width="0.15" font-weight="bold">800</text>
<line x1="150.5" y1="330.1" x2="150.5" y2="328.6" stroke="#222" stroke-width="0.9"/>
<line x1="165" y1="330.1" x2="165" y2="327.5" stroke="#222" stroke-width="0.9"/>
<text transform="translate(165 337.7) scale(0.92 1)" font-size="5.2" text-anchor="middle" stroke="#000" stroke-width="0.15" font-weight="bold">1000</text>
<line x1="18.9" y1="314.3" x2="21.5" y2="314.3" stroke="#222" stroke-width="0.9"/>
<text transform="translate(16.6 316.2) scale(0.85 1)" font-size="5.5" text-anchor="end" stroke="#000" stroke-width="0.15" font-weight="bold">30</text>
<line x1="18.9" y1="297.85" x2="20.4" y2="297.85" stroke="#222" stroke-width="0.9"/>
<line x1="18.9" y1="281.4" x2="21.5" y2="281.4" stroke="#222" stroke-width="0.9"/>
<text transform="translate(16.6 283.3) scale(0.85 1)" font-size="5.5" text-anchor="end" stroke="#000" stroke-width="0.15" font-weight="bold">35</text>
<line x1="18.9" y1="264.95" x2="20.4" y2="264.95" stroke="#222" stroke-width="0.9"/>
<line x1="18.9" y1="248.5" x2="21.5" y2="248.5" stroke="#222" stroke-width="0.9"/>
<text transform="translate(16.6 250.4) scale(0.85 1)" font-size="5.5" text-anchor="end" stroke="#000" stroke-width="0.15" font-weight="bold">40</text>
<line x1="18.9" y1="232.05" x2="20.4" y2="232.05" stroke="#222" stroke-width="0.9"/>
<line x1="18.9" y1="215.6" x2="21.5" y2="215.6" stroke="#222" stroke-width="0.9"/>
<text transform="translate(16.6 217.5) scale(0.85 1)" font-size="5.5" text-anchor="end" stroke="#000" stroke-width="0.15" font-weight="bold">45</text>
<line x1="18.9" y1="199.15" x2="20.4" y2="199.15" stroke="#222" stroke-width="0.9"/>
<line x1="164.8" y1="321.6" x2="162.2" y2="321.6" stroke="#222" stroke-width="0.9"/>
<text transform="translate(167.3 323.5) scale(0.85 1)" font-size="5.5" text-anchor="start" stroke="#000" stroke-width="0.15" font-weight="bold">0</text>
<line x1="164.8" y1="304.15" x2="163.3" y2="304.15" stroke="#222" stroke-width="0.9"/>
<line x1="164.8" y1="286.7" x2="162.2" y2="286.7" stroke="#222" stroke-width="0.9"/>
<text transform="translate(167.3 288.6) scale(0.85 1)" font-size="5.5" text-anchor="start" stroke="#000" stroke-width="0.15" font-weight="bold">2</text>
<line x1="164.8" y1="269.25" x2="163.3" y2="269.25" stroke="#222" stroke-width="0.9"/>
<line x1="164.8" y1="251.8" x2="162.2" y2="251.8" stroke="#222" stroke-width="0.9"/>
<text transform="translate(167.3 253.7) scale(0.85 1)" font-size="5.5" text-anchor="start" stroke="#000" stroke-width="0.15" font-weight="bold">4</text>
<line x1="164.8" y1="234.35" x2="163.3" y2="234.35" stroke="#222" stroke-width="0.9"/>
<line x1="164.8" y1="216.9" x2="162.2" y2="216.9" stroke="#222" stroke-width="0.9"/>
<text transform="translate(167.3 218.8) scale(0.85 1)" font-size="5.5" text-anchor="start" stroke="#000" stroke-width="0.15" font-weight="bold">6</text>
<text x="92.2" y="348.3" font-size="7.1" text-anchor="middle" stroke="#000" stroke-width="0.25" font-weight="bold" textLength="21.6" lengthAdjust="spacingAndGlyphs">Time (s)</text>
<text x="9.2" y="264" font-size="7" text-anchor="middle" stroke="#000" stroke-width="0.25" font-weight="bold" textLength="51" lengthAdjust="spacingAndGlyphs" transform="rotate(-90 9.2 264)">Temperature (°C)</text>
<text x="178.3" y="265.7" font-size="7" text-anchor="middle" stroke="#000" stroke-width="0.25" font-weight="bold" textLength="22.2" lengthAdjust="spacingAndGlyphs" transform="rotate(-90 178.3 265.7)">ΔT (°C)</text>
<text x="64" y="195.5" font-size="12.6" text-anchor="start" stroke="#000" stroke-width="0.3" font-weight="bold" textLength="44" lengthAdjust="spacingAndGlyphs">(c) 30 <tspan stroke-width="0.55">°</tspan>C</text>
<line x1="33.2" y1="208.7" x2="45.2" y2="208.7" stroke="#12c6c6" stroke-width="0.5" opacity="0.5"/>
<path d="M37.6 209.7L40.16 206.7L40.8 209.7Z" fill="#12c6c6"/>
<text transform="translate(48.6 211.3) scale(0.84 1)" font-size="6.9" font-weight="bold" text-anchor="start" stroke="#000" stroke-width="0.3">T<tspan font-size="4.83" dy="1.52">1</tspan><tspan dy="-1.52"></tspan></text>
<line x1="33.2" y1="218.4" x2="45.2" y2="218.4" stroke="#ff5e0e" stroke-width="0.5" opacity="0.5"/>
<path d="M37.6 219.4L40.16 216.4L40.8 219.4Z" fill="#ff5e0e"/>
<text transform="translate(48.6 221) scale(0.84 1)" font-size="6.9" font-weight="bold" text-anchor="start" stroke="#000" stroke-width="0.3">T<tspan font-size="4.83" dy="1.52">2</tspan><tspan dy="-1.52"></tspan></text>
<line x1="33.2" y1="228.1" x2="45.2" y2="228.1" stroke="#5a90da" stroke-width="0.5" opacity="0.5"/>
<path d="M37.6 229.1L40.16 226.1L40.8 229.1Z" fill="#5a90da"/>
<text transform="translate(48.6 230.7) scale(0.84 1)" font-size="6.9" font-weight="bold" text-anchor="start" stroke="#000" stroke-width="0.3">T<tspan font-size="4.83" dy="1.52">3</tspan><tspan dy="-1.52"></tspan></text>
<line x1="64.2" y1="208.7" x2="76.2" y2="208.7" stroke="#7f7f00" stroke-width="0.5" opacity="0.5"/>
<path d="M69 208.7a1.2 1.2 0 1 0 2.4 0a1.2 1.2 0 1 0 -2.4 0Z" fill="#7f7f00"/>
<text transform="translate(79.3 211.3) scale(0.84 1)" font-size="6.9" font-weight="bold" text-anchor="start" stroke="#000" stroke-width="0.3">ΔT<tspan font-size="4.83" dy="1.52">13</tspan><tspan dy="-1.52"></tspan></text>
<line x1="64.2" y1="218.4" x2="76.2" y2="218.4" stroke="#a400d8" stroke-width="0.5" opacity="0.5"/>
<path d="M69 218.4a1.2 1.2 0 1 0 2.4 0a1.2 1.2 0 1 0 -2.4 0Z" fill="#a400d8"/>
<text transform="translate(79.3 221) scale(0.84 1)" font-size="6.9" font-weight="bold" text-anchor="start" stroke="#000" stroke-width="0.3">ΔT<tspan font-size="4.83" dy="1.52">23</tspan><tspan dy="-1.52"></tspan></text>
<text x="104.5" y="214.6" font-size="7.2" font-weight="bold" text-anchor="start" stroke="#000" stroke-width="0.25" textLength="28.8" lengthAdjust="spacingAndGlyphs">T<tspan font-size="5.04" dy="1.58">3</tspan><tspan dy="-1.58">=45.38°C</tspan></text>
<line x1="133.6" y1="211.5" x2="155.5" y2="211" stroke="#666" stroke-width="0.5"/>
<path d="M155.5 211L152.53 212.37L152.47 209.77Z" fill="#111"/>
<text x="98.7" y="266.7" font-size="7.2" font-weight="bold" text-anchor="start" stroke="#000" stroke-width="0.25" textLength="32.8" lengthAdjust="spacingAndGlyphs">ΔT<tspan font-size="5.04" dy="1.58">13</tspan><tspan dy="-1.58">=3.73°C</tspan></text>
<line x1="132" y1="263.5" x2="154" y2="256" stroke="#666" stroke-width="0.5"/>
<path d="M154 256L151.58 258.2L150.74 255.74Z" fill="#111"/>
<polyline points="196,299.6 199.03,298.83 202.05,298.11 205.07,297.49 208.1,297.06 211.12,296.71 214.15,296.39 217.18,296.03 220.2,295.64 223.22,295.36 226.25,295.33 229.28,295.57 232.3,295.87 235.32,296 238.35,295.74 241.38,295.22 244.4,294.61 247.43,294 250.45,293.29 253.47,292.55 256.5,291.77 259.52,291.01 262.55,290.23 265.57,289.4 268.6,288.77 271.62,288.49 274.65,288.36 277.68,288.25 280.7,288.03 283.73,287.49 286.75,286.66 289.77,285.68 292.8,284.43 295.82,282.81 298.85,281.11 301.88,279.35 304.9,277.45 307.93,276.96 310.95,277.52 313.98,277.4 317,276.55 320.02,275.49 323.05,274.38 326.07,273.06 329.1,271.57 332.12,269.98 335.15,267.86 338.17,263.84" fill="none" stroke="#7f7f00" stroke-width="0.5" opacity="0.35"/>
<path d="M196 297.9L196.6 298.77L197.62 299.07L196.97 299.92L197 300.98L196 300.62L195 300.98L195.03 299.92L194.38 299.07L195.4 298.77ZM199.03 297.13L199.62 298.01L200.64 298.31L200 299.15L200.02 300.21L199.03 299.85L198.03 300.21L198.05 299.15L197.41 298.31L198.43 298.01ZM202.05 296.41L202.65 297.28L203.67 297.58L203.02 298.42L203.05 299.48L202.05 299.13L201.05 299.48L201.08 298.42L200.43 297.58L201.45 297.28ZM205.07 295.79L205.67 296.66L206.69 296.96L206.05 297.8L206.07 298.86L205.07 298.51L204.08 298.86L204.1 297.8L203.46 296.96L204.48 296.66ZM208.1 295.36L208.7 296.24L209.72 296.54L209.07 297.38L209.1 298.44L208.1 298.08L207.1 298.44L207.13 297.38L206.48 296.54L207.5 296.24ZM211.12 295.01L211.72 295.89L212.74 296.19L212.1 297.03L212.12 298.09L211.12 297.73L210.13 298.09L210.15 297.03L209.51 296.19L210.53 295.89ZM214.15 294.69L214.75 295.57L215.77 295.87L215.12 296.71L215.15 297.77L214.15 297.41L213.15 297.77L213.18 296.71L212.53 295.87L213.55 295.57ZM217.18 294.33L217.77 295.21L218.79 295.51L218.15 296.35L218.17 297.41L217.18 297.05L216.18 297.41L216.2 296.35L215.56 295.51L216.58 295.21ZM220.2 293.94L220.8 294.81L221.82 295.11L221.17 295.95L221.2 297.01L220.2 296.66L219.2 297.01L219.23 295.95L218.58 295.11L219.6 294.81ZM223.22 293.66L223.82 294.53L224.84 294.83L224.2 295.67L224.22 296.73L223.22 296.38L222.23 296.73L222.25 295.67L221.61 294.83L222.63 294.53ZM226.25 293.63L226.85 294.5L227.87 294.8L227.22 295.65L227.25 296.71L226.25 296.35L225.25 296.71L225.28 295.65L224.63 294.8L225.65 294.5ZM229.28 293.87L229.87 294.75L230.89 295.05L230.25 295.89L230.27 296.95L229.28 296.59L228.28 296.95L228.3 295.89L227.66 295.05L228.68 294.75ZM232.3 294.17L232.9 295.05L233.92 295.35L233.27 296.19L233.3 297.25L232.3 296.89L231.3 297.25L231.33 296.19L230.68 295.35L231.7 295.05ZM235.32 294.3L235.92 295.17L236.94 295.47L236.3 296.31L236.32 297.37L235.32 297.02L234.33 297.37L234.35 296.31L233.71 295.47L234.73 295.17ZM238.35 294.04L238.95 294.92L239.97 295.22L239.32 296.06L239.35 297.12L238.35 296.76L237.35 297.12L237.38 296.06L236.73 295.22L237.75 294.92ZM241.38 293.52L241.97 294.39L242.99 294.69L242.35 295.53L242.37 296.59L241.38 296.24L240.38 296.59L240.4 295.53L239.76 294.69L240.78 294.39ZM244.4 292.91L245 293.79L246.02 294.09L245.37 294.93L245.4 295.99L244.4 295.63L243.4 295.99L243.43 294.93L242.78 294.09L243.8 293.79ZM247.43 292.3L248.02 293.17L249.04 293.47L248.4 294.31L248.42 295.37L247.43 295.02L246.43 295.37L246.45 294.31L245.81 293.47L246.83 293.17ZM250.45 291.59L251.05 292.47L252.07 292.77L251.42 293.61L251.45 294.67L250.45 294.31L249.45 294.67L249.48 293.61L248.83 292.77L249.85 292.47ZM253.47 290.85L254.07 291.72L255.09 292.02L254.45 292.86L254.47 293.92L253.47 293.57L252.48 293.92L252.5 292.86L251.86 292.02L252.88 291.72ZM256.5 290.07L257.1 290.95L258.12 291.25L257.47 292.09L257.5 293.15L256.5 292.79L255.5 293.15L255.53 292.09L254.88 291.25L255.9 290.95ZM259.52 289.31L260.12 290.19L261.14 290.49L260.5 291.33L260.52 292.39L259.52 292.03L258.53 292.39L258.55 291.33L257.91 290.49L258.93 290.19ZM262.55 288.53L263.15 289.4L264.17 289.7L263.52 290.54L263.55 291.6L262.55 291.25L261.55 291.6L261.58 290.54L260.93 289.7L261.95 289.4ZM265.57 287.7L266.17 288.58L267.19 288.88L266.55 289.72L266.57 290.78L265.57 290.42L264.58 290.78L264.6 289.72L263.96 288.88L264.98 288.58ZM268.6 287.07L269.2 287.94L270.22 288.24L269.57 289.08L269.6 290.14L268.6 289.79L267.6 290.14L267.63 289.08L266.98 288.24L268 287.94ZM271.62 286.79L272.22 287.66L273.24 287.96L272.6 288.8L272.62 289.86L271.62 289.51L270.63 289.86L270.65 288.8L270.01 287.96L271.03 287.66ZM274.65 286.66L275.25 287.54L276.27 287.84L275.62 288.68L275.65 289.74L274.65 289.38L273.65 289.74L273.68 288.68L273.03 287.84L274.05 287.54ZM277.68 286.55L278.27 287.42L279.29 287.72L278.65 288.56L278.67 289.62L277.68 289.27L276.68 289.62L276.7 288.56L276.06 287.72L277.08 287.42ZM280.7 286.33L281.3 287.2L282.32 287.5L281.67 288.34L281.7 289.41L280.7 289.05L279.7 289.41L279.73 288.34L279.08 287.5L280.1 287.2ZM283.73 285.79L284.32 286.66L285.34 286.96L284.7 287.8L284.72 288.86L283.73 288.51L282.73 288.86L282.75 287.8L282.11 286.96L283.13 286.66ZM286.75 284.96L287.35 285.83L288.37 286.13L287.72 286.97L287.75 288.03L286.75 287.68L285.75 288.03L285.78 286.97L285.13 286.13L286.15 285.83ZM289.77 283.98L290.37 284.85L291.39 285.15L290.75 285.99L290.77 287.05L289.77 286.7L288.78 287.05L288.8 285.99L288.16 285.15L289.18 284.85ZM292.8 282.73L293.4 283.6L294.42 283.9L293.77 284.74L293.8 285.8L292.8 285.45L291.8 285.8L291.83 284.74L291.18 283.9L292.2 283.6ZM295.82 281.11L296.42 281.98L297.44 282.28L296.8 283.12L296.82 284.18L295.82 283.83L294.83 284.18L294.85 283.12L294.21 282.28L295.23 281.98ZM298.85 279.41L299.45 280.28L300.47 280.58L299.82 281.42L299.85 282.48L298.85 282.13L297.85 282.48L297.88 281.42L297.23 280.58L298.25 280.28ZM301.88 277.65L302.47 278.52L303.49 278.82L302.85 279.66L302.87 280.72L301.88 280.37L300.88 280.72L300.9 279.66L300.26 278.82L301.28 278.52ZM304.9 275.75L305.5 276.63L306.52 276.93L305.87 277.77L305.9 278.83L304.9 278.47L303.9 278.83L303.93 277.77L303.28 276.93L304.3 276.63ZM307.93 275.26L308.52 276.14L309.54 276.44L308.9 277.28L308.92 278.34L307.93 277.98L306.93 278.34L306.95 277.28L306.31 276.44L307.33 276.14ZM310.95 275.82L311.55 276.7L312.57 277L311.92 277.84L311.95 278.9L310.95 278.54L309.95 278.9L309.98 277.84L309.33 277L310.35 276.7ZM313.98 275.7L314.57 276.57L315.59 276.87L314.95 277.71L314.97 278.77L313.98 278.42L312.98 278.77L313 277.71L312.36 276.87L313.38 276.57ZM317 274.85L317.6 275.72L318.62 276.02L317.97 276.86L318 277.92L317 277.57L316 277.92L316.03 276.86L315.38 276.02L316.4 275.72ZM320.02 273.79L320.62 274.67L321.64 274.97L321 275.81L321.02 276.87L320.02 276.51L319.03 276.87L319.05 275.81L318.41 274.97L319.43 274.67ZM323.05 272.68L323.65 273.56L324.67 273.86L324.02 274.7L324.05 275.76L323.05 275.4L322.05 275.76L322.08 274.7L321.43 273.86L322.45 273.56ZM326.07 271.36L326.67 272.23L327.69 272.53L327.05 273.37L327.07 274.43L326.07 274.08L325.08 274.43L325.1 273.37L324.46 272.53L325.48 272.23ZM329.1 269.87L329.7 270.74L330.72 271.04L330.07 271.88L330.1 272.94L329.1 272.59L328.1 272.94L328.13 271.88L327.48 271.04L328.5 270.74ZM332.12 268.28L332.72 269.16L333.74 269.46L333.1 270.3L333.12 271.36L332.12 271L331.13 271.36L331.15 270.3L330.51 269.46L331.53 269.16ZM335.15 266.16L335.75 267.03L336.77 267.33L336.12 268.17L336.15 269.23L335.15 268.88L334.15 269.23L334.18 268.17L333.53 267.33L334.55 267.03ZM338.17 262.14L338.77 263.01L339.79 263.31L339.15 264.15L339.17 265.21L338.17 264.86L337.18 265.21L337.2 264.15L336.56 263.31L337.58 263.01Z" fill="#7f7f00"/>
<polyline points="196,322.2 199.03,319.5 202.05,315.87 205.07,313.57 208.1,312.27 211.12,311.35 214.15,310.66 217.18,310.13 220.2,309.69 223.22,309.31 226.25,308.96 229.28,308.64 232.3,308.34 235.32,308.06 238.35,307.77 241.38,307.46 244.4,307.16 247.43,306.84 250.45,306.43 253.47,305.84 256.5,305.1 259.52,304.32 262.55,303.51 265.57,302.61 268.6,301.76 271.62,301.03 274.65,300.41 277.68,299.81 280.7,299.13 283.73,298.39 286.75,297.58 289.77,296.67 292.8,295.6 295.82,294.37 298.85,293.08 301.88,291.8 304.9,290.47 307.93,289.16 310.95,287.93 313.98,286.86 317,285.79 320.02,284.59 323.05,283.17 326.07,281.57 329.1,279.78 332.12,277.66 335.15,275.14 338.17,272.67" fill="none" stroke="#a400d8" stroke-width="0.5" opacity="0.35"/>
<path d="M194.6 322.2a1.4 1.4 0 1 0 2.8 0a1.4 1.4 0 1 0 -2.8 0ZM197.62 319.5a1.4 1.4 0 1 0 2.8 0a1.4 1.4 0 1 0 -2.8 0ZM200.65 315.87a1.4 1.4 0 1 0 2.8 0a1.4 1.4 0 1 0 -2.8 0ZM203.67 313.57a1.4 1.4 0 1 0 2.8 0a1.4 1.4 0 1 0 -2.8 0ZM206.7 312.27a1.4 1.4 0 1 0 2.8 0a1.4 1.4 0 1 0 -2.8 0ZM209.72 311.35a1.4 1.4 0 1 0 2.8 0a1.4 1.4 0 1 0 -2.8 0ZM212.75 310.66a1.4 1.4 0 1 0 2.8 0a1.4 1.4 0 1 0 -2.8 0ZM215.78 310.13a1.4 1.4 0 1 0 2.8 0a1.4 1.4 0 1 0 -2.8 0ZM218.8 309.69a1.4 1.4 0 1 0 2.8 0a1.4 1.4 0 1 0 -2.8 0ZM221.82 309.31a1.4 1.4 0 1 0 2.8 0a1.4 1.4 0 1 0 -2.8 0ZM224.85 308.96a1.4 1.4 0 1 0 2.8 0a1.4 1.4 0 1 0 -2.8 0ZM227.88 308.64a1.4 1.4 0 1 0 2.8 0a1.4 1.4 0 1 0 -2.8 0ZM230.9 308.34a1.4 1.4 0 1 0 2.8 0a1.4 1.4 0 1 0 -2.8 0ZM233.92 308.06a1.4 1.4 0 1 0 2.8 0a1.4 1.4 0 1 0 -2.8 0ZM236.95 307.77a1.4 1.4 0 1 0 2.8 0a1.4 1.4 0 1 0 -2.8 0ZM239.97 307.46a1.4 1.4 0 1 0 2.8 0a1.4 1.4 0 1 0 -2.8 0ZM243 307.16a1.4 1.4 0 1 0 2.8 0a1.4 1.4 0 1 0 -2.8 0ZM246.03 306.84a1.4 1.4 0 1 0 2.8 0a1.4 1.4 0 1 0 -2.8 0ZM249.05 306.43a1.4 1.4 0 1 0 2.8 0a1.4 1.4 0 1 0 -2.8 0ZM252.07 305.84a1.4 1.4 0 1 0 2.8 0a1.4 1.4 0 1 0 -2.8 0ZM255.1 305.1a1.4 1.4 0 1 0 2.8 0a1.4 1.4 0 1 0 -2.8 0ZM258.12 304.32a1.4 1.4 0 1 0 2.8 0a1.4 1.4 0 1 0 -2.8 0ZM261.15 303.51a1.4 1.4 0 1 0 2.8 0a1.4 1.4 0 1 0 -2.8 0ZM264.18 302.61a1.4 1.4 0 1 0 2.8 0a1.4 1.4 0 1 0 -2.8 0ZM267.2 301.76a1.4 1.4 0 1 0 2.8 0a1.4 1.4 0 1 0 -2.8 0ZM270.23 301.03a1.4 1.4 0 1 0 2.8 0a1.4 1.4 0 1 0 -2.8 0ZM273.25 300.41a1.4 1.4 0 1 0 2.8 0a1.4 1.4 0 1 0 -2.8 0ZM276.28 299.81a1.4 1.4 0 1 0 2.8 0a1.4 1.4 0 1 0 -2.8 0ZM279.3 299.13a1.4 1.4 0 1 0 2.8 0a1.4 1.4 0 1 0 -2.8 0ZM282.33 298.39a1.4 1.4 0 1 0 2.8 0a1.4 1.4 0 1 0 -2.8 0ZM285.35 297.58a1.4 1.4 0 1 0 2.8 0a1.4 1.4 0 1 0 -2.8 0ZM288.38 296.67a1.4 1.4 0 1 0 2.8 0a1.4 1.4 0 1 0 -2.8 0ZM291.4 295.6a1.4 1.4 0 1 0 2.8 0a1.4 1.4 0 1 0 -2.8 0ZM294.43 294.37a1.4 1.4 0 1 0 2.8 0a1.4 1.4 0 1 0 -2.8 0ZM297.45 293.08a1.4 1.4 0 1 0 2.8 0a1.4 1.4 0 1 0 -2.8 0ZM300.48 291.8a1.4 1.4 0 1 0 2.8 0a1.4 1.4 0 1 0 -2.8 0ZM303.5 290.47a1.4 1.4 0 1 0 2.8 0a1.4 1.4 0 1 0 -2.8 0ZM306.53 289.16a1.4 1.4 0 1 0 2.8 0a1.4 1.4 0 1 0 -2.8 0ZM309.55 287.93a1.4 1.4 0 1 0 2.8 0a1.4 1.4 0 1 0 -2.8 0ZM312.58 286.86a1.4 1.4 0 1 0 2.8 0a1.4 1.4 0 1 0 -2.8 0ZM315.6 285.79a1.4 1.4 0 1 0 2.8 0a1.4 1.4 0 1 0 -2.8 0ZM318.62 284.59a1.4 1.4 0 1 0 2.8 0a1.4 1.4 0 1 0 -2.8 0ZM321.65 283.17a1.4 1.4 0 1 0 2.8 0a1.4 1.4 0 1 0 -2.8 0ZM324.68 281.57a1.4 1.4 0 1 0 2.8 0a1.4 1.4 0 1 0 -2.8 0ZM327.7 279.78a1.4 1.4 0 1 0 2.8 0a1.4 1.4 0 1 0 -2.8 0ZM330.73 277.66a1.4 1.4 0 1 0 2.8 0a1.4 1.4 0 1 0 -2.8 0ZM333.75 275.14a1.4 1.4 0 1 0 2.8 0a1.4 1.4 0 1 0 -2.8 0ZM336.77 272.67a1.4 1.4 0 1 0 2.8 0a1.4 1.4 0 1 0 -2.8 0Z" fill="#a400d8"/>
<polyline points="196,262.3 199.03,262.02 202.05,261.68 205.07,261.27 208.1,260.81 211.12,260.3 214.15,259.68 217.18,258.96 220.2,258.16 223.22,257.33 226.25,256.49 229.28,255.69 232.3,254.91 235.32,254.13 238.35,253.34 241.38,252.55 244.4,251.78 247.43,251.02 250.45,250.29 253.47,249.59 256.5,248.9 259.52,248.22 262.55,247.56 265.57,246.92 268.6,246.29 271.62,245.67 274.65,245.08 277.68,244.5 280.7,243.93 283.73,243.37 286.75,242.81 289.77,242.24 292.8,241.68 295.82,241.12 298.85,240.56 301.88,240 304.9,239.44 307.93,238.88 310.95,238.33 313.98,237.79 317,237.27 320.02,236.75 323.05,236.21 326.07,235.64 329.1,235 332.12,234.27 335.15,233.42 338.17,232.54" fill="none" stroke="#12c6c6" stroke-width="0.5" opacity="0.35"/>
<path d="M194.4 263.3L196.96 260.3L197.6 263.3ZM197.43 263.02L199.99 260.02L200.62 263.02ZM200.45 262.68L203.01 259.68L203.65 262.68ZM203.47 262.27L206.03 259.27L206.67 262.27ZM206.5 261.81L209.06 258.81L209.7 261.81ZM209.53 261.3L212.09 258.3L212.72 261.3ZM212.55 260.68L215.11 257.68L215.75 260.68ZM215.58 259.96L218.14 256.96L218.78 259.96ZM218.6 259.16L221.16 256.16L221.8 259.16ZM221.62 258.33L224.19 255.33L224.82 258.33ZM224.65 257.49L227.21 254.49L227.85 257.49ZM227.68 256.69L230.24 253.69L230.88 256.69ZM230.7 255.91L233.26 252.91L233.9 255.91ZM233.72 255.13L236.28 252.13L236.92 255.13ZM236.75 254.34L239.31 251.34L239.95 254.34ZM239.78 253.55L242.34 250.55L242.97 253.55ZM242.8 252.78L245.36 249.78L246 252.78ZM245.83 252.02L248.39 249.02L249.03 252.02ZM248.85 251.29L251.41 248.29L252.05 251.29ZM251.88 250.59L254.44 247.59L255.07 250.59ZM254.9 249.9L257.46 246.9L258.1 249.9ZM257.92 249.22L260.48 246.22L261.12 249.22ZM260.95 248.56L263.51 245.56L264.15 248.56ZM263.97 247.92L266.53 244.92L267.18 247.92ZM267 247.29L269.56 244.29L270.2 247.29ZM270.02 246.67L272.58 243.67L273.23 246.67ZM273.05 246.08L275.61 243.08L276.25 246.08ZM276.07 245.5L278.63 242.5L279.28 245.5ZM279.1 244.93L281.66 241.93L282.3 244.93ZM282.12 244.37L284.69 241.37L285.33 244.37ZM285.15 243.81L287.71 240.81L288.35 243.81ZM288.17 243.24L290.73 240.24L291.38 243.24ZM291.2 242.68L293.76 239.68L294.4 242.68ZM294.22 242.12L296.78 239.12L297.43 242.12ZM297.25 241.56L299.81 238.56L300.45 241.56ZM300.27 241L302.83 238L303.48 241ZM303.3 240.44L305.86 237.44L306.5 240.44ZM306.32 239.88L308.88 236.88L309.53 239.88ZM309.35 239.33L311.91 236.33L312.55 239.33ZM312.38 238.79L314.94 235.79L315.58 238.79ZM315.4 238.27L317.96 235.27L318.6 238.27ZM318.42 237.75L320.98 234.75L321.62 237.75ZM321.45 237.21L324.01 234.21L324.65 237.21ZM324.47 236.64L327.03 233.64L327.68 236.64ZM327.5 236L330.06 233L330.7 236ZM330.52 235.27L333.08 232.27L333.73 235.27ZM333.55 234.42L336.11 231.42L336.75 234.42ZM336.57 233.54L339.13 230.54L339.77 233.54Z" fill="#12c6c6"/>
<polyline points="196,256.9 199.03,256.86 202.05,256.74 205.07,256.57 208.1,256.35 211.12,256.09 214.15,255.6 217.18,254.89 220.2,254.03 223.22,253.09 226.25,252.16 229.28,251.29 232.3,250.5 235.32,249.7 238.35,248.89 241.38,248.09 244.4,247.31 247.43,246.58 250.45,245.9 253.47,245.29 256.5,244.71 259.52,244.17 262.55,243.63 265.57,243.1 268.6,242.56 271.62,241.99 274.65,241.4 277.68,240.8 280.7,240.2 283.73,239.62 286.75,239.06 289.77,238.54 292.8,238.06 295.82,237.6 298.85,237.17 301.88,236.75 304.9,236.33 307.93,235.91 310.95,235.46 313.98,235.03 317,234.61 320.02,234.19 323.05,233.74 326.07,233.24 329.1,232.68 332.12,232.01 335.15,231.18 338.17,230.24" fill="none" stroke="#ff5e0e" stroke-width="0.5" opacity="0.35"/>
<path d="M194.4 257.9L196.96 254.9L197.6 257.9ZM197.43 257.86L199.99 254.86L200.62 257.86ZM200.45 257.74L203.01 254.74L203.65 257.74ZM203.47 257.57L206.03 254.57L206.67 257.57ZM206.5 257.35L209.06 254.35L209.7 257.35ZM209.53 257.09L212.09 254.09L212.72 257.09ZM212.55 256.6L215.11 253.6L215.75 256.6ZM215.58 255.89L218.14 252.89L218.78 255.89ZM218.6 255.03L221.16 252.03L221.8 255.03ZM221.62 254.09L224.19 251.09L224.82 254.09ZM224.65 253.16L227.21 250.16L227.85 253.16ZM227.68 252.29L230.24 249.29L230.88 252.29ZM230.7 251.5L233.26 248.5L233.9 251.5ZM233.72 250.7L236.28 247.7L236.92 250.7ZM236.75 249.89L239.31 246.89L239.95 249.89ZM239.78 249.09L242.34 246.09L242.97 249.09ZM242.8 248.31L245.36 245.31L246 248.31ZM245.83 247.58L248.39 244.58L249.03 247.58ZM248.85 246.9L251.41 243.9L252.05 246.9ZM251.88 246.29L254.44 243.29L255.07 246.29ZM254.9 245.71L257.46 242.71L258.1 245.71ZM257.92 245.17L260.48 242.17L261.12 245.17ZM260.95 244.63L263.51 241.63L264.15 244.63ZM263.97 244.1L266.53 241.1L267.18 244.1ZM267 243.56L269.56 240.56L270.2 243.56ZM270.02 242.99L272.58 239.99L273.23 242.99ZM273.05 242.4L275.61 239.4L276.25 242.4ZM276.07 241.8L278.63 238.8L279.28 241.8ZM279.1 241.2L281.66 238.2L282.3 241.2ZM282.12 240.62L284.69 237.62L285.33 240.62ZM285.15 240.06L287.71 237.06L288.35 240.06ZM288.17 239.54L290.73 236.54L291.38 239.54ZM291.2 239.06L293.76 236.06L294.4 239.06ZM294.22 238.6L296.78 235.6L297.43 238.6ZM297.25 238.17L299.81 235.17L300.45 238.17ZM300.27 237.75L302.83 234.75L303.48 237.75ZM303.3 237.33L305.86 234.33L306.5 237.33ZM306.32 236.91L308.88 233.91L309.53 236.91ZM309.35 236.46L311.91 233.46L312.55 236.46ZM312.38 236.03L314.94 233.03L315.58 236.03ZM315.4 235.61L317.96 232.61L318.6 235.61ZM318.42 235.19L320.98 232.19L321.62 235.19ZM321.45 234.74L324.01 231.74L324.65 234.74ZM324.47 234.24L327.03 231.24L327.68 234.24ZM327.5 233.68L330.06 230.68L330.7 233.68ZM330.52 233.01L333.08 230.01L333.73 233.01ZM333.55 232.18L336.11 229.18L336.75 232.18ZM336.57 231.24L339.13 228.24L339.77 231.24Z" fill="#ff5e0e"/>
<polyline points="196,254.4 199.03,253.91 202.05,253.37 205.07,252.8 208.1,252.2 211.12,251.56 214.15,250.85 217.18,250.09 220.2,249.3 223.22,248.49 226.25,247.68 229.28,246.89 232.3,246.12 235.32,245.35 238.35,244.59 241.38,243.83 244.4,243.06 247.43,242.28 250.45,241.48 253.47,240.67 256.5,239.84 259.52,239 262.55,238.15 265.57,237.29 268.6,236.41 271.62,235.51 274.65,234.58 277.68,233.61 280.7,232.64 283.73,231.68 286.75,230.75 289.77,229.86 292.8,229.04 295.82,228.26 298.85,227.51 301.88,226.77 304.9,226.02 307.93,225.25 310.95,224.44 313.98,223.66 317,222.88 320.02,222.08 323.05,221.23 326.07,220.3 329.1,219.24 332.12,217.91 335.15,216.19 338.17,214.65" fill="none" stroke="#5a90da" stroke-width="0.5" opacity="0.35"/>
<path d="M194.4 255.4L196.96 252.4L197.6 255.4ZM197.43 254.91L199.99 251.91L200.62 254.91ZM200.45 254.37L203.01 251.37L203.65 254.37ZM203.47 253.8L206.03 250.8L206.67 253.8ZM206.5 253.2L209.06 250.2L209.7 253.2ZM209.53 252.56L212.09 249.56L212.72 252.56ZM212.55 251.85L215.11 248.85L215.75 251.85ZM215.58 251.09L218.14 248.09L218.78 251.09ZM218.6 250.3L221.16 247.3L221.8 250.3ZM221.62 249.49L224.19 246.49L224.82 249.49ZM224.65 248.68L227.21 245.68L227.85 248.68ZM227.68 247.89L230.24 244.89L230.88 247.89ZM230.7 247.12L233.26 244.12L233.9 247.12ZM233.72 246.35L236.28 243.35L236.92 246.35ZM236.75 245.59L239.31 242.59L239.95 245.59ZM239.78 244.83L242.34 241.83L242.97 244.83ZM242.8 244.06L245.36 241.06L246 244.06ZM245.83 243.28L248.39 240.28L249.03 243.28ZM248.85 242.48L251.41 239.48L252.05 242.48ZM251.88 241.67L254.44 238.67L255.07 241.67ZM254.9 240.84L257.46 237.84L258.1 240.84ZM257.92 240L260.48 237L261.12 240ZM260.95 239.15L263.51 236.15L264.15 239.15ZM263.97 238.29L266.53 235.29L267.18 238.29ZM267 237.41L269.56 234.41L270.2 237.41ZM270.02 236.51L272.58 233.51L273.23 236.51ZM273.05 235.58L275.61 232.58L276.25 235.58ZM276.07 234.61L278.63 231.61L279.28 234.61ZM279.1 233.64L281.66 230.64L282.3 233.64ZM282.12 232.68L284.69 229.68L285.33 232.68ZM285.15 231.75L287.71 228.75L288.35 231.75ZM288.17 230.86L290.73 227.86L291.38 230.86ZM291.2 230.04L293.76 227.04L294.4 230.04ZM294.22 229.26L296.78 226.26L297.43 229.26ZM297.25 228.51L299.81 225.51L300.45 228.51ZM300.27 227.77L302.83 224.77L303.48 227.77ZM303.3 227.02L305.86 224.02L306.5 227.02ZM306.32 226.25L308.88 223.25L309.53 226.25ZM309.35 225.44L311.91 222.44L312.55 225.44ZM312.38 224.66L314.94 221.66L315.58 224.66ZM315.4 223.88L317.96 220.88L318.6 223.88ZM318.42 223.08L320.98 220.08L321.62 223.08ZM321.45 222.23L324.01 219.23L324.65 222.23ZM324.47 221.3L327.03 218.3L327.68 221.3ZM327.5 220.24L330.06 217.24L330.7 220.24ZM330.52 218.91L333.08 215.91L333.73 218.91ZM333.55 217.19L336.11 214.19L336.75 217.19ZM336.57 215.65L339.13 212.65L339.77 215.65Z" fill="#5a90da"/>
<rect x="194.5" y="201.5" width="151.1" height="126.8" fill="none" stroke="#4a4a4a" stroke-width="1.3"/>
<line x1="196" y1="328.3" x2="196" y2="325.7" stroke="#222" stroke-width="0.9"/>
<text transform="translate(196 335.9) scale(0.92 1)" font-size="5.2" text-anchor="middle" stroke="#000" stroke-width="0.15" font-weight="bold">0</text>
<line x1="210.95" y1="328.3" x2="210.95" y2="326.8" stroke="#222" stroke-width="0.9"/>
<line x1="225.9" y1="328.3" x2="225.9" y2="325.7" stroke="#222" stroke-width="0.9"/>
<text transform="translate(225.9 335.9) scale(0.92 1)" font-size="5.2" text-anchor="middle" stroke="#000" stroke-width="0.15" font-weight="bold">200</text>
<line x1="240.85" y1="328.3" x2="240.85" y2="326.8" stroke="#222" stroke-width="0.9"/>
<line x1="255.8" y1="328.3" x2="255.8" y2="325.7" stroke="#222" stroke-width="0.9"/>
<text transform="translate(255.8 335.9) scale(0.92 1)" font-size="5.2" text-anchor="middle" stroke="#000" stroke-width="0.15" font-weight="bold">400</text>
<line x1="270.75" y1="328.3" x2="270.75" y2="326.8" stroke="#222" stroke-width="0.9"/>
<line x1="285.7" y1="328.3" x2="285.7" y2="325.7" stroke="#222" stroke-width="0.9"/>
<text transform="translate(285.7 335.9) scale(0.92 1)" font-size="5.2" text-anchor="middle" stroke="#000" stroke-width="0.15" font-weight="bold">600</text>
<line x1="300.65" y1="328.3" x2="300.65" y2="326.8" stroke="#222" stroke-width="0.9"/>
<line x1="315.6" y1="328.3" x2="315.6" y2="325.7" stroke="#222" stroke-width="0.9"/>
<text transform="translate(315.6 335.9) scale(0.92 1)" font-size="5.2" text-anchor="middle" stroke="#000" stroke-width="0.15" font-weight="bold">800</text>
<line x1="330.55" y1="328.3" x2="330.55" y2="326.8" stroke="#222" stroke-width="0.9"/>
<line x1="345.5" y1="328.3" x2="345.5" y2="325.7" stroke="#222" stroke-width="0.9"/>
<text transform="translate(345.5 335.9) scale(0.92 1)" font-size="5.2" text-anchor="middle" stroke="#000" stroke-width="0.15" font-weight="bold">1000</text>
<line x1="194.5" y1="328.59" x2="196" y2="328.59" stroke="#222" stroke-width="0.9"/>
<line x1="194.5" y1="314.5" x2="197.1" y2="314.5" stroke="#222" stroke-width="0.9"/>
<text transform="translate(192.2 316.4) scale(0.85 1)" font-size="5.5" text-anchor="end" stroke="#000" stroke-width="0.15" font-weight="bold">30</text>
<line x1="194.5" y1="300.41" x2="196" y2="300.41" stroke="#222" stroke-width="0.9"/>
<line x1="194.5" y1="286.32" x2="197.1" y2="286.32" stroke="#222" stroke-width="0.9"/>
<text transform="translate(192.2 288.22) scale(0.85 1)" font-size="5.5" text-anchor="end" stroke="#000" stroke-width="0.15" font-weight="bold">35</text>
<line x1="194.5" y1="272.24" x2="196" y2="272.24" stroke="#222" stroke-width="0.9"/>
<line x1="194.5" y1="258.15" x2="197.1" y2="258.15" stroke="#222" stroke-width="0.9"/>
<text transform="translate(192.2 260.05) scale(0.85 1)" font-size="5.5" text-anchor="end" stroke="#000" stroke-width="0.15" font-weight="bold">40</text>
<line x1="194.5" y1="244.06" x2="196" y2="244.06" stroke="#222" stroke-width="0.9"/>
<line x1="194.5" y1="229.98" x2="197.1" y2="229.98" stroke="#222" stroke-width="0.9"/>
<text transform="translate(192.2 231.88) scale(0.85 1)" font-size="5.5" text-anchor="end" stroke="#000" stroke-width="0.15" font-weight="bold">45</text>
<line x1="194.5" y1="215.89" x2="196" y2="215.89" stroke="#222" stroke-width="0.9"/>
<line x1="194.5" y1="201.8" x2="197.1" y2="201.8" stroke="#222" stroke-width="0.9"/>
<text transform="translate(192.2 203.7) scale(0.85 1)" font-size="5.5" text-anchor="end" stroke="#000" stroke-width="0.15" font-weight="bold">50</text>
<line x1="345.6" y1="328.3" x2="343" y2="328.3" stroke="#222" stroke-width="0.9"/>
<text transform="translate(348.1 330.2) scale(0.85 1)" font-size="5.5" text-anchor="start" stroke="#000" stroke-width="0.15" font-weight="bold">0</text>
<line x1="345.6" y1="307.17" x2="343" y2="307.17" stroke="#222" stroke-width="0.9"/>
<text transform="translate(348.1 309.07) scale(0.85 1)" font-size="5.5" text-anchor="start" stroke="#000" stroke-width="0.15" font-weight="bold">1</text>
<line x1="345.6" y1="286.03" x2="343" y2="286.03" stroke="#222" stroke-width="0.9"/>
<text transform="translate(348.1 287.93) scale(0.85 1)" font-size="5.5" text-anchor="start" stroke="#000" stroke-width="0.15" font-weight="bold">2</text>
<line x1="345.6" y1="264.9" x2="343" y2="264.9" stroke="#222" stroke-width="0.9"/>
<text transform="translate(348.1 266.8) scale(0.85 1)" font-size="5.5" text-anchor="start" stroke="#000" stroke-width="0.15" font-weight="bold">3</text>
<line x1="345.6" y1="243.77" x2="343" y2="243.77" stroke="#222" stroke-width="0.9"/>
<text transform="translate(348.1 245.67) scale(0.85 1)" font-size="5.5" text-anchor="start" stroke="#000" stroke-width="0.15" font-weight="bold">4</text>
<line x1="345.6" y1="222.63" x2="343" y2="222.63" stroke="#222" stroke-width="0.9"/>
<text transform="translate(348.1 224.53) scale(0.85 1)" font-size="5.5" text-anchor="start" stroke="#000" stroke-width="0.15" font-weight="bold">5</text>
<line x1="345.6" y1="201.5" x2="343" y2="201.5" stroke="#222" stroke-width="0.9"/>
<text transform="translate(348.1 203.4) scale(0.85 1)" font-size="5.5" text-anchor="start" stroke="#000" stroke-width="0.15" font-weight="bold">6</text>
<text x="270.5" y="345.6" font-size="7.1" text-anchor="middle" stroke="#000" stroke-width="0.25" font-weight="bold" textLength="21" lengthAdjust="spacingAndGlyphs">Time (s)</text>
<text x="184" y="261.5" font-size="7" text-anchor="middle" stroke="#000" stroke-width="0.25" font-weight="bold" textLength="54" lengthAdjust="spacingAndGlyphs" transform="rotate(-90 184 261.5)">Temperature (°C)</text>
<text x="358.9" y="264" font-size="7" text-anchor="middle" stroke="#000" stroke-width="0.25" font-weight="bold" textLength="20.7" lengthAdjust="spacingAndGlyphs" transform="rotate(-90 358.9 264)">ΔT (°C)</text>
<text x="243.8" y="197.9" font-size="12.6" text-anchor="start" stroke="#000" stroke-width="0.3" font-weight="bold" textLength="45" lengthAdjust="spacingAndGlyphs">(d) 35 <tspan stroke-width="0.55">°</tspan>C</text>
<line x1="204.4" y1="210.6" x2="216.4" y2="210.6" stroke="#12c6c6" stroke-width="0.5" opacity="0.5"/>
<path d="M208.8 211.6L211.36 208.6L212 211.6Z" fill="#12c6c6"/>
<text transform="translate(219.8 213.2) scale(0.84 1)" font-size="6.9" font-weight="bold" text-anchor="start" stroke="#000" stroke-width="0.3">T<tspan font-size="4.83" dy="1.52">1</tspan><tspan dy="-1.52"></tspan></text>
<line x1="204.4" y1="220" x2="216.4" y2="220" stroke="#ff5e0e" stroke-width="0.5" opacity="0.5"/>
<path d="M208.8 221L211.36 218L212 221Z" fill="#ff5e0e"/>
<text transform="translate(219.8 222.6) scale(0.84 1)" font-size="6.9" font-weight="bold" text-anchor="start" stroke="#000" stroke-width="0.3">T<tspan font-size="4.83" dy="1.52">2</tspan><tspan dy="-1.52"></tspan></text>
<line x1="204.4" y1="229.4" x2="216.4" y2="229.4" stroke="#5a90da" stroke-width="0.5" opacity="0.5"/>
<path d="M208.8 230.4L211.36 227.4L212 230.4Z" fill="#5a90da"/>
<text transform="translate(219.8 232) scale(0.84 1)" font-size="6.9" font-weight="bold" text-anchor="start" stroke="#000" stroke-width="0.3">T<tspan font-size="4.83" dy="1.52">3</tspan><tspan dy="-1.52"></tspan></text>
<line x1="236.5" y1="210.6" x2="248.5" y2="210.6" stroke="#7f7f00" stroke-width="0.5" opacity="0.5"/>
<path d="M241.3 210.6a1.2 1.2 0 1 0 2.4 0a1.2 1.2 0 1 0 -2.4 0Z" fill="#7f7f00"/>
<text transform="translate(251.6 213.2) scale(0.84 1)" font-size="6.9" font-weight="bold" text-anchor="start" stroke="#000" stroke-width="0.3">ΔT<tspan font-size="4.83" dy="1.52">13</tspan><tspan dy="-1.52"></tspan></text>
<line x1="236.5" y1="220" x2="248.5" y2="220" stroke="#a400d8" stroke-width="0.5" opacity="0.5"/>
<path d="M241.3 220a1.2 1.2 0 1 0 2.4 0a1.2 1.2 0 1 0 -2.4 0Z" fill="#a400d8"/>
<text transform="translate(251.6 222.6) scale(0.84 1)" font-size="6.9" font-weight="bold" text-anchor="start" stroke="#000" stroke-width="0.3">ΔT<tspan font-size="4.83" dy="1.52">23</tspan><tspan dy="-1.52"></tspan></text>
<text x="281.8" y="215.6" font-size="7.2" font-weight="bold" text-anchor="start" stroke="#000" stroke-width="0.25" textLength="29.1" lengthAdjust="spacingAndGlyphs">T<tspan font-size="5.04" dy="1.58">3</tspan><tspan dy="-1.58">=47.61°C</tspan></text>
<line x1="311.2" y1="212.9" x2="336" y2="212.8" stroke="#666" stroke-width="0.5"/>
<path d="M336 212.8L333.01 214.11L332.99 211.51Z" fill="#111"/>
<text x="279.6" y="267.5" font-size="7.2" font-weight="bold" text-anchor="start" stroke="#000" stroke-width="0.25" textLength="32.8" lengthAdjust="spacingAndGlyphs">ΔT<tspan font-size="5.04" dy="1.58">13</tspan><tspan dy="-1.58">=3.08°C</tspan></text>
<line x1="313" y1="264.5" x2="336.5" y2="262" stroke="#666" stroke-width="0.5"/>
<path d="M336.5 262L333.65 263.61L333.38 261.02Z" fill="#111"/>
<rect x="384.1" y="246" width="8.15" height="81.7" fill="#00f000" stroke="#3a3a3a" stroke-width="0.45"/>
<rect x="392.25" y="235.4" width="8.15" height="92.3" fill="#ff00ff" stroke="#3a3a3a" stroke-width="0.45"/>
<rect x="400.4" y="229.1" width="8.15" height="98.6" fill="#00ffff" stroke="#3a3a3a" stroke-width="0.45"/>
<rect x="408.55" y="269.9" width="8.15" height="57.8" fill="url(#hg)" stroke="#3a3a3a" stroke-width="0.45"/>
<rect x="416.7" y="305.8" width="8.15" height="21.9" fill="url(#hy)" stroke="#3a3a3a" stroke-width="0.45"/>
<rect x="434.9" y="247" width="8.15" height="80.7" fill="#00f000" stroke="#3a3a3a" stroke-width="0.45"/>
<rect x="443.05" y="236.4" width="8.15" height="91.3" fill="#ff00ff" stroke="#3a3a3a" stroke-width="0.45"/>
<rect x="451.2" y="229.4" width="8.15" height="98.3" fill="#00ffff" stroke="#3a3a3a" stroke-width="0.45"/>
<rect x="459.35" y="270.2" width="8.15" height="57.5" fill="url(#hg)" stroke="#3a3a3a" stroke-width="0.45"/>
<rect x="467.5" y="305.3" width="8.15" height="22.4" fill="url(#hy)" stroke="#3a3a3a" stroke-width="0.45"/>
<rect x="486" y="247.3" width="8.15" height="80.4" fill="#00f000" stroke="#3a3a3a" stroke-width="0.45"/>
<rect x="494.15" y="238" width="8.15" height="89.7" fill="#ff00ff" stroke="#3a3a3a" stroke-width="0.45"/>
<rect x="502.3" y="228.1" width="8.15" height="99.6" fill="#00ffff" stroke="#3a3a3a" stroke-width="0.45"/>
<rect x="510.45" y="264.5" width="8.15" height="63.2" fill="url(#hg)" stroke="#3a3a3a" stroke-width="0.45"/>
<rect x="518.6" y="294.1" width="8.15" height="33.6" fill="url(#hy)" stroke="#3a3a3a" stroke-width="0.45"/>
<rect x="379.5" y="256.3" width="151.4" height="1.8" fill="#fff" stroke="none" stroke-width="0.5"/>
<line x1="388.18" y1="242.9" x2="388.18" y2="249.9" stroke="#222" stroke-width="0.6"/>
<line x1="387.07" y1="242.9" x2="389.28" y2="242.9" stroke="#222" stroke-width="0.5"/>
<line x1="387.07" y1="249.9" x2="389.28" y2="249.9" stroke="#222" stroke-width="0.5"/>
<circle cx="388.18" cy="246" r="0.7" fill="#222"/>
<line x1="396.32" y1="231.4" x2="396.32" y2="239.4" stroke="#222" stroke-width="0.6"/>
<line x1="395.22" y1="231.4" x2="397.43" y2="231.4" stroke="#222" stroke-width="0.5"/>
<line x1="395.22" y1="239.4" x2="397.43" y2="239.4" stroke="#222" stroke-width="0.5"/>
<circle cx="396.32" cy="235.4" r="0.7" fill="#222"/>
<line x1="404.48" y1="224.5" x2="404.48" y2="233.6" stroke="#222" stroke-width="0.6"/>
<line x1="403.38" y1="224.5" x2="405.58" y2="224.5" stroke="#222" stroke-width="0.5"/>
<line x1="403.38" y1="233.6" x2="405.58" y2="233.6" stroke="#222" stroke-width="0.5"/>
<circle cx="404.48" cy="229.1" r="0.7" fill="#222"/>
<line x1="412.62" y1="266.6" x2="412.62" y2="273.5" stroke="#222" stroke-width="0.6"/>
<line x1="411.52" y1="266.6" x2="413.73" y2="266.6" stroke="#222" stroke-width="0.5"/>
<line x1="411.52" y1="273.5" x2="413.73" y2="273.5" stroke="#222" stroke-width="0.5"/>
<circle cx="412.62" cy="269.9" r="0.7" fill="#222"/>
<line x1="420.78" y1="303.6" x2="420.78" y2="308.2" stroke="#222" stroke-width="0.6"/>
<line x1="419.68" y1="303.6" x2="421.88" y2="303.6" stroke="#222" stroke-width="0.5"/>
<line x1="419.68" y1="308.2" x2="421.88" y2="308.2" stroke="#222" stroke-width="0.5"/>
<circle cx="420.78" cy="305.8" r="0.7" fill="#222"/>
<line x1="438.97" y1="243.8" x2="438.97" y2="250.3" stroke="#222" stroke-width="0.6"/>
<line x1="437.87" y1="243.8" x2="440.07" y2="243.8" stroke="#222" stroke-width="0.5"/>
<line x1="437.87" y1="250.3" x2="440.07" y2="250.3" stroke="#222" stroke-width="0.5"/>
<circle cx="438.97" cy="247" r="0.7" fill="#222"/>
<line x1="447.12" y1="232.6" x2="447.12" y2="240" stroke="#222" stroke-width="0.6"/>
<line x1="446.02" y1="232.6" x2="448.22" y2="232.6" stroke="#222" stroke-width="0.5"/>
<line x1="446.02" y1="240" x2="448.22" y2="240" stroke="#222" stroke-width="0.5"/>
<circle cx="447.12" cy="236.4" r="0.7" fill="#222"/>
<line x1="455.27" y1="225" x2="455.27" y2="233.6" stroke="#222" stroke-width="0.6"/>
<line x1="454.17" y1="225" x2="456.38" y2="225" stroke="#222" stroke-width="0.5"/>
<line x1="454.17" y1="233.6" x2="456.38" y2="233.6" stroke="#222" stroke-width="0.5"/>
<circle cx="455.27" cy="229.4" r="0.7" fill="#222"/>
<line x1="463.42" y1="266.6" x2="463.42" y2="274" stroke="#222" stroke-width="0.6"/>
<line x1="462.32" y1="266.6" x2="464.52" y2="266.6" stroke="#222" stroke-width="0.5"/>
<line x1="462.32" y1="274" x2="464.52" y2="274" stroke="#222" stroke-width="0.5"/>
<circle cx="463.42" cy="270.2" r="0.7" fill="#222"/>
<line x1="471.57" y1="301" x2="471.57" y2="309.5" stroke="#222" stroke-width="0.6"/>
<line x1="470.47" y1="301" x2="472.68" y2="301" stroke="#222" stroke-width="0.5"/>
<line x1="470.47" y1="309.5" x2="472.68" y2="309.5" stroke="#222" stroke-width="0.5"/>
<circle cx="471.57" cy="305.3" r="0.7" fill="#222"/>
<line x1="490.07" y1="244.1" x2="490.07" y2="250.2" stroke="#222" stroke-width="0.6"/>
<line x1="488.97" y1="244.1" x2="491.18" y2="244.1" stroke="#222" stroke-width="0.5"/>
<line x1="488.97" y1="250.2" x2="491.18" y2="250.2" stroke="#222" stroke-width="0.5"/>
<circle cx="490.07" cy="247.3" r="0.7" fill="#222"/>
<line x1="498.22" y1="234.9" x2="498.22" y2="241.2" stroke="#222" stroke-width="0.6"/>
<line x1="497.12" y1="234.9" x2="499.32" y2="234.9" stroke="#222" stroke-width="0.5"/>
<line x1="497.12" y1="241.2" x2="499.32" y2="241.2" stroke="#222" stroke-width="0.5"/>
<circle cx="498.22" cy="238" r="0.7" fill="#222"/>
<line x1="506.38" y1="224.5" x2="506.38" y2="232.2" stroke="#222" stroke-width="0.6"/>
<line x1="505.27" y1="224.5" x2="507.48" y2="224.5" stroke="#222" stroke-width="0.5"/>
<line x1="505.27" y1="232.2" x2="507.48" y2="232.2" stroke="#222" stroke-width="0.5"/>
<circle cx="506.38" cy="228.1" r="0.7" fill="#222"/>
<line x1="514.52" y1="261.3" x2="514.52" y2="268.1" stroke="#222" stroke-width="0.6"/>
<line x1="513.42" y1="261.3" x2="515.62" y2="261.3" stroke="#222" stroke-width="0.5"/>
<line x1="513.42" y1="268.1" x2="515.62" y2="268.1" stroke="#222" stroke-width="0.5"/>
<circle cx="514.52" cy="264.5" r="0.7" fill="#222"/>
<line x1="522.68" y1="291.4" x2="522.68" y2="297.3" stroke="#222" stroke-width="0.6"/>
<line x1="521.58" y1="291.4" x2="523.78" y2="291.4" stroke="#222" stroke-width="0.5"/>
<line x1="521.58" y1="297.3" x2="523.78" y2="297.3" stroke="#222" stroke-width="0.5"/>
<circle cx="522.68" cy="294.1" r="0.7" fill="#222"/>
<path d="M379.0 256.0V202.9H531.4V327.7H379.0V258.6" fill="none" stroke="#707070" stroke-width="1.0"/>
<line x1="377.2" y1="257.8" x2="380.4" y2="254.2" stroke="#333" stroke-width="0.6"/>
<line x1="377.6" y1="259.8" x2="380.8" y2="256.2" stroke="#333" stroke-width="0.6"/>
<line x1="379" y1="327.6" x2="381.6" y2="327.6" stroke="#222" stroke-width="0.9"/>
<text transform="translate(376.7 329.5) scale(0.85 1)" font-size="5.5" text-anchor="end" stroke="#000" stroke-width="0.15" font-weight="bold">0</text>
<line x1="379" y1="300.9" x2="380.5" y2="300.9" stroke="#222" stroke-width="0.9"/>
<line x1="379" y1="274.2" x2="381.6" y2="274.2" stroke="#222" stroke-width="0.9"/>
<text transform="translate(376.7 276.1) scale(0.85 1)" font-size="5.5" text-anchor="end" stroke="#000" stroke-width="0.15" font-weight="bold">10</text>
<line x1="379" y1="229.4" x2="381.4" y2="229.4" stroke="#222" stroke-width="0.9"/>
<text transform="translate(376.7 231.3) scale(0.85 1)" font-size="5.5" text-anchor="end" stroke="#000" stroke-width="0.15" font-weight="bold">50</text>
<line x1="531.9" y1="327.7" x2="529.8" y2="327.7" stroke="#222" stroke-width="1"/>
<text transform="translate(533.9 329.6) scale(0.85 1)" font-size="5.5" text-anchor="start" stroke="#000" stroke-width="0.15" font-weight="bold">0</text>
<line x1="531.9" y1="318.79" x2="530.4" y2="318.79" stroke="#222" stroke-width="1"/>
<line x1="531.9" y1="309.87" x2="529.8" y2="309.87" stroke="#222" stroke-width="1"/>
<text transform="translate(533.9 311.77) scale(0.85 1)" font-size="5.5" text-anchor="start" stroke="#000" stroke-width="0.15" font-weight="bold">1</text>
<line x1="531.9" y1="300.96" x2="530.4" y2="300.96" stroke="#222" stroke-width="1"/>
<line x1="531.9" y1="292.04" x2="529.8" y2="292.04" stroke="#222" stroke-width="1"/>
<text transform="translate(533.9 293.94) scale(0.85 1)" font-size="5.5" text-anchor="start" stroke="#000" stroke-width="0.15" font-weight="bold">2</text>
<line x1="531.9" y1="283.13" x2="530.4" y2="283.13" stroke="#222" stroke-width="1"/>
<line x1="531.9" y1="274.21" x2="529.8" y2="274.21" stroke="#222" stroke-width="1"/>
<text transform="translate(533.9 276.11) scale(0.85 1)" font-size="5.5" text-anchor="start" stroke="#000" stroke-width="0.15" font-weight="bold">3</text>
<line x1="531.9" y1="265.3" x2="530.4" y2="265.3" stroke="#222" stroke-width="1"/>
<line x1="531.9" y1="256.39" x2="529.8" y2="256.39" stroke="#222" stroke-width="1"/>
<text transform="translate(533.9 258.29) scale(0.85 1)" font-size="5.5" text-anchor="start" stroke="#000" stroke-width="0.15" font-weight="bold">4</text>
<line x1="531.9" y1="247.47" x2="530.4" y2="247.47" stroke="#222" stroke-width="1"/>
<line x1="531.9" y1="238.56" x2="529.8" y2="238.56" stroke="#222" stroke-width="1"/>
<text transform="translate(533.9 240.46) scale(0.85 1)" font-size="5.5" text-anchor="start" stroke="#000" stroke-width="0.15" font-weight="bold">5</text>
<line x1="531.9" y1="229.64" x2="530.4" y2="229.64" stroke="#222" stroke-width="1"/>
<line x1="531.9" y1="220.73" x2="529.8" y2="220.73" stroke="#222" stroke-width="1"/>
<text transform="translate(533.9 222.63) scale(0.85 1)" font-size="5.5" text-anchor="start" stroke="#000" stroke-width="0.15" font-weight="bold">6</text>
<line x1="531.9" y1="211.81" x2="530.4" y2="211.81" stroke="#222" stroke-width="1"/>
<line x1="531.9" y1="202.9" x2="529.8" y2="202.9" stroke="#222" stroke-width="1"/>
<text transform="translate(533.9 204.8) scale(0.85 1)" font-size="5.5" text-anchor="start" stroke="#000" stroke-width="0.15" font-weight="bold">7</text>
<line x1="404.5" y1="327.7" x2="404.5" y2="325.3" stroke="#222" stroke-width="0.9"/>
<text transform="translate(404.5 334.9) scale(0.92 1)" font-size="5.2" text-anchor="middle" stroke="#000" stroke-width="0.15" font-weight="bold">1.5</text>
<line x1="455.3" y1="327.7" x2="455.3" y2="325.3" stroke="#222" stroke-width="0.9"/>
<text transform="translate(455.3 334.9) scale(0.92 1)" font-size="5.2" text-anchor="middle" stroke="#000" stroke-width="0.15" font-weight="bold">2.5</text>
<line x1="506.3" y1="327.7" x2="506.3" y2="325.3" stroke="#222" stroke-width="0.9"/>
<text transform="translate(506.3 334.9) scale(0.92 1)" font-size="5.2" text-anchor="middle" stroke="#000" stroke-width="0.15" font-weight="bold">3.5</text>
<text x="429" y="346.8" font-size="6.8" font-weight="bold" stroke="#000" stroke-width="0.25" textLength="53" lengthAdjust="spacingAndGlyphs">Fan velocity (m s<tspan font-size="5.2" dy="-2.4">-1</tspan><tspan dy="2.4">)</tspan></text>
<text x="368.1" y="265" font-size="7" text-anchor="middle" stroke="#000" stroke-width="0.25" font-weight="bold" textLength="48.4" lengthAdjust="spacingAndGlyphs" transform="rotate(-90 368.1 265)">Temperature (°C)</text>
<text x="546.1" y="266" font-size="7" text-anchor="middle" stroke="#000" stroke-width="0.25" font-weight="bold" textLength="21" lengthAdjust="spacingAndGlyphs" transform="rotate(-90 546.1 266)">ΔT (°C)</text>
<text x="452.7" y="198.7" font-size="12.2" text-anchor="start" stroke="#000" stroke-width="0.3" font-weight="bold" textLength="12.8" lengthAdjust="spacingAndGlyphs">(e)</text>
<rect x="414.1" y="206" width="12.5" height="5.6" fill="#00f000" stroke="#555" stroke-width="0.35"/>
<text transform="translate(429.6 211.2) scale(0.85 1)" font-size="7.3" font-weight="bold" text-anchor="start" stroke="#000" stroke-width="0.3">T<tspan font-size="5.11" dy="1.61">1</tspan><tspan dy="-1.61"></tspan></text>
<rect x="414.1" y="215.6" width="12.5" height="5.6" fill="#ff00ff" stroke="#555" stroke-width="0.35"/>
<text transform="translate(429.6 220.8) scale(0.85 1)" font-size="7.3" font-weight="bold" text-anchor="start" stroke="#000" stroke-width="0.3">T<tspan font-size="5.11" dy="1.61">2</tspan><tspan dy="-1.61"></tspan></text>
<rect x="414.1" y="224.6" width="12.5" height="5.6" fill="#00ffff" stroke="#555" stroke-width="0.35"/>
<text transform="translate(429.6 229.8) scale(0.85 1)" font-size="7.3" font-weight="bold" text-anchor="start" stroke="#000" stroke-width="0.3">T<tspan font-size="5.11" dy="1.61">3</tspan><tspan dy="-1.61"></tspan></text>
<rect x="465.3" y="209.8" width="12.7" height="5.9" fill="url(#hg)" stroke="#555" stroke-width="0.35"/>
<text transform="translate(481.1 215.2) scale(0.85 1)" font-size="7.3" font-weight="bold" text-anchor="start" stroke="#000" stroke-width="0.3">ΔT<tspan font-size="5.11" dy="1.61">13</tspan><tspan dy="-1.61"></tspan></text>
<rect x="465.3" y="220.8" width="12.7" height="5.9" fill="url(#hy)" stroke="#555" stroke-width="0.35"/>
<text transform="translate(481.1 226.2) scale(0.85 1)" font-size="7.3" font-weight="bold" text-anchor="start" stroke="#000" stroke-width="0.3">ΔT<tspan font-size="5.11" dy="1.61">23</tspan><tspan dy="-1.61"></tspan></text>
</svg>
</body></html>
